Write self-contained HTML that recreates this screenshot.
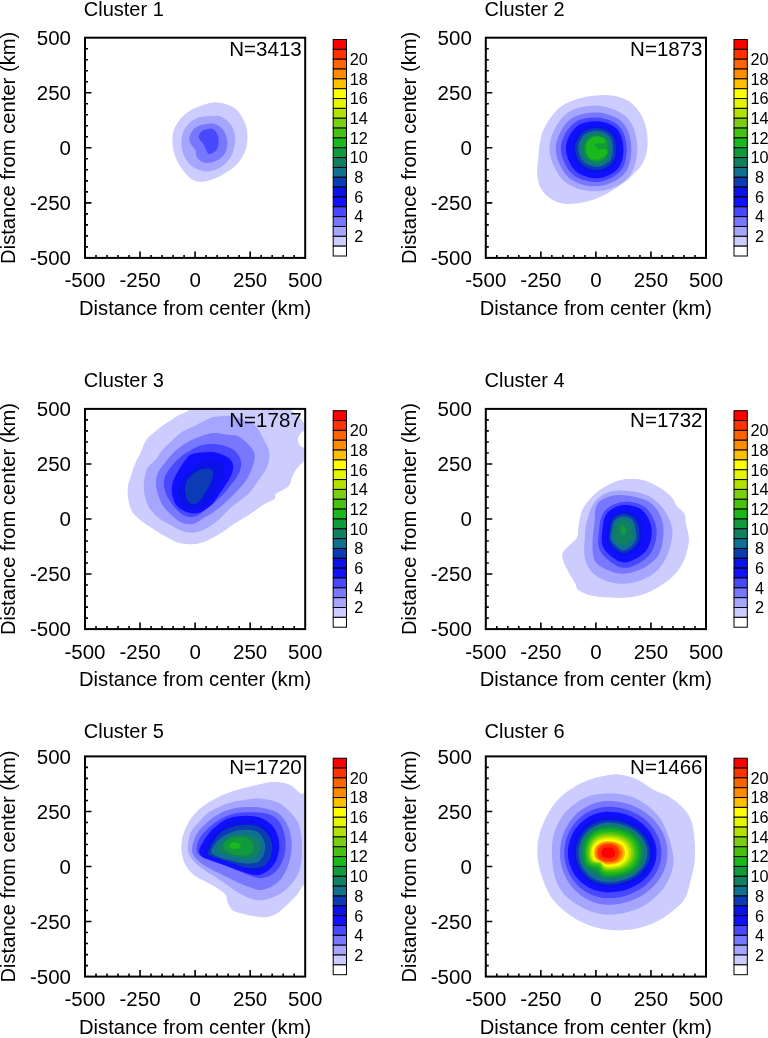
<!DOCTYPE html>
<html><head><meta charset="utf-8"><title>Clusters</title>
<style>
html,body{margin:0;padding:0;background:#fff;}
svg{display:block;}
.t{font-family:'Liberation Sans', Arial, Helvetica, sans-serif;font-size:20.5px;fill:#000;}
.s{font-family:'Liberation Sans', Arial, Helvetica, sans-serif;font-size:16.3px;fill:#000;}
</style></head><body>
<svg width="768" height="1038" viewBox="0 0 768 1038">
<defs><clipPath id="clip0"><rect x="85.00" y="37.70" width="220.20" height="220.20"/></clipPath><clipPath id="clip1"><rect x="485.80" y="37.70" width="220.20" height="220.20"/></clipPath><clipPath id="clip2"><rect x="85.00" y="408.90" width="220.20" height="220.20"/></clipPath><clipPath id="clip3"><rect x="485.80" y="408.90" width="220.20" height="220.20"/></clipPath><clipPath id="clip4"><rect x="85.00" y="756.40" width="220.20" height="220.20"/></clipPath><clipPath id="clip5"><rect x="485.80" y="756.40" width="220.20" height="220.20"/></clipPath></defs>
<rect width="768" height="1038" fill="#fff"/>
<g clip-path="url(#clip0)">
<path d="M217.3,102.4C222.3,102.7 229.0,104.9 232.9,106.9C236.8,109.0 238.4,111.2 240.7,114.7C243.0,118.2 245.5,123.2 246.6,127.8C247.7,132.4 247.5,138.0 247.2,142.1C246.9,146.2 246.1,149.0 244.6,152.5C243.1,156.0 240.7,159.9 238.1,162.9C235.5,165.9 232.9,168.1 229.0,170.7C225.1,173.3 219.2,176.7 214.7,178.5C210.1,180.3 205.4,181.6 201.7,181.8C198.0,182.0 195.6,181.7 192.6,179.8C189.6,178.0 186.2,174.4 183.4,170.7C180.6,167.0 177.4,162.5 175.6,157.7C173.8,152.9 172.6,146.9 172.4,142.1C172.2,137.3 172.9,133.0 174.3,129.1C175.7,125.2 178.2,121.6 180.8,118.6C183.4,115.5 186.3,113.1 190.0,110.8C193.7,108.5 198.4,106.4 203.0,105.0C207.6,103.6 212.3,102.1 217.3,102.4Z" fill="#ccccff"/>
<path d="M212.1,116.0C215.8,115.9 218.2,115.4 221.2,116.7C224.2,118.0 228.0,121.0 230.3,123.9C232.6,126.8 234.2,130.4 234.9,134.3C235.6,138.2 235.0,143.4 234.2,147.3C233.4,151.2 232.5,154.4 230.3,157.7C228.1,160.9 224.7,164.5 221.2,166.8C217.7,169.1 213.4,171.0 209.5,171.4C205.6,171.8 201.3,170.8 197.8,169.4C194.3,168.0 191.1,165.7 188.6,162.9C186.1,160.1 184.0,156.0 182.8,152.5C181.6,149.0 181.4,145.6 181.5,142.1C181.6,138.6 182.0,134.9 183.4,131.7C184.8,128.4 187.4,125.0 190.0,122.6C192.6,120.2 195.4,118.4 199.1,117.3C202.8,116.2 208.4,116.1 212.1,116.0Z" fill="#a6a6ff"/>
<path d="M203.0,124.5C206.0,124.0 211.4,123.1 214.7,123.9C217.9,124.7 220.4,126.5 222.5,129.1C224.6,131.7 226.4,136.0 227.1,139.5C227.8,143.0 227.4,146.9 226.4,149.9C225.4,152.9 223.6,155.6 221.2,157.7C218.8,159.8 215.1,161.5 212.1,162.3C209.1,163.1 205.6,163.3 203.0,162.3C200.4,161.3 197.7,158.4 196.5,156.4C195.3,154.4 196.7,152.4 195.8,150.5C194.9,148.6 192.4,146.8 191.3,144.7C190.2,142.6 189.2,140.4 189.3,138.2C189.4,136.0 190.7,133.5 191.9,131.7C193.1,129.8 194.7,128.3 196.5,127.1C198.3,125.9 200.0,125.0 203.0,124.5Z" fill="#7878ff"/>
<path d="M203.0,130.4C204.9,129.3 208.6,128.2 210.8,128.4C213.0,128.6 214.7,129.8 216.0,131.7C217.3,133.5 218.4,136.7 218.6,139.5C218.8,142.3 218.2,146.4 217.3,148.6C216.4,150.8 214.9,151.6 213.4,152.5C211.9,153.4 209.5,154.5 208.2,153.8C206.9,153.2 206.5,150.3 205.6,148.6C204.7,146.9 204.0,144.9 203.0,143.4C202.0,141.9 200.3,140.9 199.7,139.5C199.0,138.1 198.5,136.4 199.1,134.9C199.7,133.4 201.1,131.5 203.0,130.4Z" fill="#4848ff"/>
</g>
<rect x="85.00" y="37.70" width="220.20" height="220.20" fill="none" stroke="#000" stroke-width="2"/>
<path d="M96.01,257.90v-3.0M85.00,246.89h3.0M107.02,257.90v-3.0M85.00,235.88h3.0M118.03,257.90v-3.0M85.00,224.87h3.0M129.04,257.90v-3.0M85.00,213.86h3.0M140.05,257.90v-6.5M85.00,202.85h6.5M151.06,257.90v-3.0M85.00,191.84h3.0M162.07,257.90v-3.0M85.00,180.83h3.0M173.08,257.90v-3.0M85.00,169.82h3.0M184.09,257.90v-3.0M85.00,158.81h3.0M195.10,257.90v-6.5M85.00,147.80h6.5M206.11,257.90v-3.0M85.00,136.79h3.0M217.12,257.90v-3.0M85.00,125.78h3.0M228.13,257.90v-3.0M85.00,114.77h3.0M239.14,257.90v-3.0M85.00,103.76h3.0M250.15,257.90v-6.5M85.00,92.75h6.5M261.16,257.90v-3.0M85.00,81.74h3.0M272.17,257.90v-3.0M85.00,70.73h3.0M283.18,257.90v-3.0M85.00,59.72h3.0M294.19,257.90v-3.0M85.00,48.71h3.0" stroke="#000" stroke-width="1.6" fill="none"/>
<text x="85.00" y="287.30" text-anchor="middle" class="t">-500</text>
<text x="71.00" y="265.10" text-anchor="end" class="t">-500</text>
<text x="140.05" y="287.30" text-anchor="middle" class="t">-250</text>
<text x="71.00" y="210.05" text-anchor="end" class="t">-250</text>
<text x="195.10" y="287.30" text-anchor="middle" class="t">0</text>
<text x="71.00" y="155.00" text-anchor="end" class="t">0</text>
<text x="250.15" y="287.30" text-anchor="middle" class="t">250</text>
<text x="71.00" y="99.95" text-anchor="end" class="t">250</text>
<text x="305.20" y="287.30" text-anchor="middle" class="t">500</text>
<text x="71.00" y="44.90" text-anchor="end" class="t">500</text>
<text x="195.10" y="314.90" text-anchor="middle" class="t" style="font-size:20.2px">Distance from center (km)</text>
<text transform="translate(14.70,147.80) rotate(-90)" text-anchor="middle" class="t" style="font-size:20.2px">Distance from center (km)</text>
<text x="83.80" y="15.60" class="t" style="font-size:20px">Cluster 1</text>
<text x="301.70" y="55.70" text-anchor="end" class="t">N=3413</text>
<rect x="333.20" y="39.50" width="13.30" height="9.84" fill="#ff0000" stroke="#000" stroke-width="1"/>
<rect x="333.20" y="49.34" width="13.30" height="9.84" fill="#ff3200" stroke="#000" stroke-width="1"/>
<rect x="333.20" y="59.18" width="13.30" height="9.84" fill="#ff6400" stroke="#000" stroke-width="1"/>
<rect x="333.20" y="69.02" width="13.30" height="9.84" fill="#ff8c00" stroke="#000" stroke-width="1"/>
<rect x="333.20" y="78.86" width="13.30" height="9.84" fill="#ffc000" stroke="#000" stroke-width="1"/>
<rect x="333.20" y="88.70" width="13.30" height="9.84" fill="#ffff00" stroke="#000" stroke-width="1"/>
<rect x="333.20" y="98.55" width="13.30" height="9.84" fill="#e6f500" stroke="#000" stroke-width="1"/>
<rect x="333.20" y="108.39" width="13.30" height="9.84" fill="#b4e200" stroke="#000" stroke-width="1"/>
<rect x="333.20" y="118.23" width="13.30" height="9.84" fill="#7ad010" stroke="#000" stroke-width="1"/>
<rect x="333.20" y="128.07" width="13.30" height="9.84" fill="#48c010" stroke="#000" stroke-width="1"/>
<rect x="333.20" y="137.91" width="13.30" height="9.84" fill="#1ab81a" stroke="#000" stroke-width="1"/>
<rect x="333.20" y="147.75" width="13.30" height="9.84" fill="#109a3c" stroke="#000" stroke-width="1"/>
<rect x="333.20" y="157.59" width="13.30" height="9.84" fill="#108060" stroke="#000" stroke-width="1"/>
<rect x="333.20" y="167.43" width="13.30" height="9.84" fill="#107090" stroke="#000" stroke-width="1"/>
<rect x="333.20" y="177.27" width="13.30" height="9.84" fill="#0c3cb4" stroke="#000" stroke-width="1"/>
<rect x="333.20" y="187.11" width="13.30" height="9.84" fill="#0a12e8" stroke="#000" stroke-width="1"/>
<rect x="333.20" y="196.95" width="13.30" height="9.84" fill="#1010ff" stroke="#000" stroke-width="1"/>
<rect x="333.20" y="206.80" width="13.30" height="9.84" fill="#4848ff" stroke="#000" stroke-width="1"/>
<rect x="333.20" y="216.64" width="13.30" height="9.84" fill="#7878ff" stroke="#000" stroke-width="1"/>
<rect x="333.20" y="226.48" width="13.30" height="9.84" fill="#a6a6ff" stroke="#000" stroke-width="1"/>
<rect x="333.20" y="236.32" width="13.30" height="9.84" fill="#ccccff" stroke="#000" stroke-width="1"/>
<rect x="333.20" y="246.16" width="13.30" height="9.84" fill="#ffffff" stroke="#000" stroke-width="1"/>
<text x="358.80" y="242.17" class="s" text-anchor="middle">2</text>
<text x="358.80" y="222.49" class="s" text-anchor="middle">4</text>
<text x="358.80" y="202.80" class="s" text-anchor="middle">6</text>
<text x="358.80" y="183.12" class="s" text-anchor="middle">8</text>
<text x="358.80" y="163.44" class="s" text-anchor="middle">10</text>
<text x="358.80" y="143.76" class="s" text-anchor="middle">12</text>
<text x="358.80" y="124.08" class="s" text-anchor="middle">14</text>
<text x="358.80" y="104.40" class="s" text-anchor="middle">16</text>
<text x="358.80" y="84.71" class="s" text-anchor="middle">18</text>
<text x="358.80" y="65.03" class="s" text-anchor="middle">20</text>
<g clip-path="url(#clip1)">
<path d="M612.0,95.5C617.5,96.4 623.8,98.2 628.4,100.9C633.0,103.6 636.5,107.6 639.4,111.9C642.3,116.2 644.3,121.0 645.7,126.5C647.1,132.0 647.9,138.9 647.6,144.7C647.3,150.5 645.9,156.5 643.9,161.1C641.9,165.7 639.5,168.1 635.7,172.0C631.9,175.9 626.6,180.9 621.1,184.8C615.6,188.8 609.0,192.8 602.9,195.7C596.8,198.6 590.8,200.7 584.7,202.1C578.6,203.5 572.0,204.3 566.5,203.9C561.0,203.5 556.2,202.0 551.9,199.4C547.6,196.8 543.3,192.7 540.9,188.4C538.5,184.2 537.8,178.8 537.3,173.9C536.8,169.1 537.6,165.4 538.2,159.3C538.8,153.2 539.2,143.8 540.9,137.4C542.6,131.0 544.9,126.2 548.2,121.0C551.6,115.8 556.1,110.1 561.0,106.4C565.9,102.8 571.6,100.9 577.4,99.1C583.2,97.3 589.8,96.1 595.6,95.5C601.4,94.9 606.5,94.6 612.0,95.5Z" fill="#ccccff"/>
<path d="M637.3,148.0C637.2,138.0 634.3,125.3 627.7,118.3C621.2,111.2 608.5,106.3 598.0,105.7C587.5,105.1 573.0,107.8 564.9,114.9C556.8,121.9 549.5,136.9 549.4,148.0C549.3,159.1 556.4,174.2 564.5,181.5C572.6,188.7 587.4,191.9 598.0,191.3C608.6,190.7 621.5,185.3 628.1,178.1C634.6,170.9 637.4,158.0 637.3,148.0Z" fill="#a6a6ff"/>
<path d="M631.4,148.0C631.2,139.5 628.7,128.8 623.1,122.9C617.5,117.0 606.9,113.0 598.0,112.5C589.1,112.0 576.7,113.8 569.7,119.7C562.6,125.6 555.9,138.4 555.7,148.0C555.5,157.6 561.6,171.0 568.6,177.4C575.7,183.7 588.8,186.8 598.0,186.3C607.2,185.8 618.5,180.5 624.1,174.1C629.7,167.7 631.6,156.5 631.4,148.0Z" fill="#7878ff"/>
<path d="M626.7,148.0C626.5,140.6 624.3,131.5 619.5,126.5C614.7,121.4 605.7,118.1 598.0,117.6C590.3,117.1 579.6,118.3 573.4,123.4C567.2,128.4 561.0,139.6 560.8,148.0C560.6,156.4 565.9,168.2 572.1,173.9C578.3,179.5 589.9,182.4 598.0,181.9C606.1,181.4 616.0,176.4 620.8,170.8C625.6,165.1 626.9,155.4 626.7,148.0Z" fill="#4848ff"/>
<path d="M623.4,148.0C623.2,141.5 621.2,133.5 617.0,129.0C612.7,124.6 604.7,121.7 598.0,121.3C591.3,120.9 581.9,122.1 576.6,126.6C571.2,131.0 566.1,140.7 565.9,148.0C565.7,155.3 570.0,165.7 575.3,170.7C580.7,175.7 590.8,178.6 598.0,178.2C605.2,177.8 614.0,173.3 618.2,168.2C622.5,163.2 623.6,154.5 623.4,148.0Z" fill="#1010ff"/>
<path d="M618.7,148.0C618.5,142.6 617.1,136.1 613.7,132.3C610.2,128.6 603.5,126.0 598.0,125.7C592.5,125.4 584.8,126.8 580.5,130.5C576.2,134.2 572.4,142.0 572.2,148.0C572.0,154.0 575.1,162.4 579.4,166.6C583.7,170.8 592.1,173.5 598.0,173.2C603.9,172.9 611.3,168.9 614.7,164.7C618.2,160.5 618.9,153.4 618.7,148.0Z" fill="#0a12e8"/>
<path d="M615.7,148.0C615.6,143.3 614.6,137.6 611.7,134.3C608.7,131.0 602.9,128.5 598.0,128.2C593.1,127.9 586.3,129.2 582.5,132.5C578.7,135.8 575.3,142.7 575.2,148.0C575.1,153.3 577.9,160.6 581.7,164.3C585.5,168.0 592.9,170.3 598.0,170.0C603.1,169.7 609.5,166.1 612.5,162.5C615.4,158.8 615.8,152.7 615.7,148.0Z" fill="#0c3cb4"/>
<path d="M612.8,148.0C612.7,144.0 612.2,139.2 609.7,136.3C607.2,133.4 602.2,131.0 598.0,130.7C593.8,130.4 587.8,131.6 584.5,134.5C581.2,137.4 578.3,143.4 578.2,148.0C578.1,152.6 580.6,158.9 583.9,162.1C587.2,165.2 593.6,167.2 598.0,166.9C602.4,166.6 607.8,163.4 610.3,160.3C612.7,157.1 612.9,152.0 612.8,148.0Z" fill="#107090"/>
<path d="M610.2,148.0C610.1,144.6 609.9,140.6 607.8,138.2C605.8,135.7 601.6,133.5 598.0,133.2C594.4,132.9 589.3,134.0 586.5,136.5C583.6,138.9 581.2,144.1 581.1,148.0C581.0,151.9 583.1,157.4 585.9,160.1C588.7,162.9 594.2,164.7 598.0,164.4C601.8,164.1 606.4,161.1 608.4,158.4C610.4,155.7 610.3,151.4 610.2,148.0Z" fill="#108060"/>
<path d="M607.7,148.0C607.6,145.2 607.6,142.0 606.0,140.0C604.4,137.9 600.9,136.0 598.0,135.7C595.1,135.4 590.8,136.4 588.5,138.5C586.1,140.5 584.2,144.7 584.1,148.0C584.0,151.3 585.6,155.8 587.9,158.1C590.2,160.4 594.9,162.2 598.0,161.9C601.1,161.6 605.0,158.9 606.6,156.6C608.2,154.3 607.8,150.8 607.7,148.0Z" fill="#109a3c"/>
<path d="M604.2,143.3C605.1,142.8 605.9,141.3 605.7,140.4C605.5,139.5 604.3,138.4 602.8,137.8C601.3,137.2 598.8,136.5 596.8,136.6C594.8,136.7 592.4,137.2 590.8,138.2C589.2,139.2 587.8,140.9 587.0,142.6C586.2,144.3 585.9,146.6 585.9,148.6C585.9,150.6 586.2,152.8 587.0,154.6C587.8,156.3 589.2,158.2 590.8,159.1C592.4,160.0 594.9,159.9 596.8,159.8C598.6,159.7 600.3,159.2 601.9,158.3C603.5,157.4 605.5,155.8 606.4,154.6C607.3,153.4 607.6,151.9 607.2,150.9C606.8,149.9 605.5,148.9 604.2,148.6C603.0,148.3 600.9,149.4 599.7,149.3C598.5,149.2 597.5,148.5 596.8,147.8C596.0,147.1 595.2,145.7 595.2,144.9C595.2,144.2 595.9,143.6 596.8,143.3C597.7,143.0 599.3,143.3 600.5,143.3C601.7,143.3 603.3,143.8 604.2,143.3Z" fill="#1ab81a"/>
</g>
<rect x="485.80" y="37.70" width="220.20" height="220.20" fill="none" stroke="#000" stroke-width="2"/>
<path d="M496.81,257.90v-3.0M485.80,246.89h3.0M507.82,257.90v-3.0M485.80,235.88h3.0M518.83,257.90v-3.0M485.80,224.87h3.0M529.84,257.90v-3.0M485.80,213.86h3.0M540.85,257.90v-6.5M485.80,202.85h6.5M551.86,257.90v-3.0M485.80,191.84h3.0M562.87,257.90v-3.0M485.80,180.83h3.0M573.88,257.90v-3.0M485.80,169.82h3.0M584.89,257.90v-3.0M485.80,158.81h3.0M595.90,257.90v-6.5M485.80,147.80h6.5M606.91,257.90v-3.0M485.80,136.79h3.0M617.92,257.90v-3.0M485.80,125.78h3.0M628.93,257.90v-3.0M485.80,114.77h3.0M639.94,257.90v-3.0M485.80,103.76h3.0M650.95,257.90v-6.5M485.80,92.75h6.5M661.96,257.90v-3.0M485.80,81.74h3.0M672.97,257.90v-3.0M485.80,70.73h3.0M683.98,257.90v-3.0M485.80,59.72h3.0M694.99,257.90v-3.0M485.80,48.71h3.0" stroke="#000" stroke-width="1.6" fill="none"/>
<text x="485.80" y="287.30" text-anchor="middle" class="t">-500</text>
<text x="471.80" y="265.10" text-anchor="end" class="t">-500</text>
<text x="540.85" y="287.30" text-anchor="middle" class="t">-250</text>
<text x="471.80" y="210.05" text-anchor="end" class="t">-250</text>
<text x="595.90" y="287.30" text-anchor="middle" class="t">0</text>
<text x="471.80" y="155.00" text-anchor="end" class="t">0</text>
<text x="650.95" y="287.30" text-anchor="middle" class="t">250</text>
<text x="471.80" y="99.95" text-anchor="end" class="t">250</text>
<text x="706.00" y="287.30" text-anchor="middle" class="t">500</text>
<text x="471.80" y="44.90" text-anchor="end" class="t">500</text>
<text x="595.90" y="314.90" text-anchor="middle" class="t" style="font-size:20.2px">Distance from center (km)</text>
<text transform="translate(415.50,147.80) rotate(-90)" text-anchor="middle" class="t" style="font-size:20.2px">Distance from center (km)</text>
<text x="484.60" y="15.60" class="t" style="font-size:20px">Cluster 2</text>
<text x="702.50" y="55.70" text-anchor="end" class="t">N=1873</text>
<rect x="734.00" y="39.50" width="13.30" height="9.84" fill="#ff0000" stroke="#000" stroke-width="1"/>
<rect x="734.00" y="49.34" width="13.30" height="9.84" fill="#ff3200" stroke="#000" stroke-width="1"/>
<rect x="734.00" y="59.18" width="13.30" height="9.84" fill="#ff6400" stroke="#000" stroke-width="1"/>
<rect x="734.00" y="69.02" width="13.30" height="9.84" fill="#ff8c00" stroke="#000" stroke-width="1"/>
<rect x="734.00" y="78.86" width="13.30" height="9.84" fill="#ffc000" stroke="#000" stroke-width="1"/>
<rect x="734.00" y="88.70" width="13.30" height="9.84" fill="#ffff00" stroke="#000" stroke-width="1"/>
<rect x="734.00" y="98.55" width="13.30" height="9.84" fill="#e6f500" stroke="#000" stroke-width="1"/>
<rect x="734.00" y="108.39" width="13.30" height="9.84" fill="#b4e200" stroke="#000" stroke-width="1"/>
<rect x="734.00" y="118.23" width="13.30" height="9.84" fill="#7ad010" stroke="#000" stroke-width="1"/>
<rect x="734.00" y="128.07" width="13.30" height="9.84" fill="#48c010" stroke="#000" stroke-width="1"/>
<rect x="734.00" y="137.91" width="13.30" height="9.84" fill="#1ab81a" stroke="#000" stroke-width="1"/>
<rect x="734.00" y="147.75" width="13.30" height="9.84" fill="#109a3c" stroke="#000" stroke-width="1"/>
<rect x="734.00" y="157.59" width="13.30" height="9.84" fill="#108060" stroke="#000" stroke-width="1"/>
<rect x="734.00" y="167.43" width="13.30" height="9.84" fill="#107090" stroke="#000" stroke-width="1"/>
<rect x="734.00" y="177.27" width="13.30" height="9.84" fill="#0c3cb4" stroke="#000" stroke-width="1"/>
<rect x="734.00" y="187.11" width="13.30" height="9.84" fill="#0a12e8" stroke="#000" stroke-width="1"/>
<rect x="734.00" y="196.95" width="13.30" height="9.84" fill="#1010ff" stroke="#000" stroke-width="1"/>
<rect x="734.00" y="206.80" width="13.30" height="9.84" fill="#4848ff" stroke="#000" stroke-width="1"/>
<rect x="734.00" y="216.64" width="13.30" height="9.84" fill="#7878ff" stroke="#000" stroke-width="1"/>
<rect x="734.00" y="226.48" width="13.30" height="9.84" fill="#a6a6ff" stroke="#000" stroke-width="1"/>
<rect x="734.00" y="236.32" width="13.30" height="9.84" fill="#ccccff" stroke="#000" stroke-width="1"/>
<rect x="734.00" y="246.16" width="13.30" height="9.84" fill="#ffffff" stroke="#000" stroke-width="1"/>
<text x="759.60" y="242.17" class="s" text-anchor="middle">2</text>
<text x="759.60" y="222.49" class="s" text-anchor="middle">4</text>
<text x="759.60" y="202.80" class="s" text-anchor="middle">6</text>
<text x="759.60" y="183.12" class="s" text-anchor="middle">8</text>
<text x="759.60" y="163.44" class="s" text-anchor="middle">10</text>
<text x="759.60" y="143.76" class="s" text-anchor="middle">12</text>
<text x="759.60" y="124.08" class="s" text-anchor="middle">14</text>
<text x="759.60" y="104.40" class="s" text-anchor="middle">16</text>
<text x="759.60" y="84.71" class="s" text-anchor="middle">18</text>
<text x="759.60" y="65.03" class="s" text-anchor="middle">20</text>
<g clip-path="url(#clip2)">
<path d="M186.0,404.0C203.3,402.9 274.4,403.0 292.0,404.0C309.6,405.0 290.3,407.6 291.7,410.0C293.1,412.4 298.0,415.6 300.4,418.6C302.8,421.6 306.0,425.4 306.0,427.9C306.0,430.4 301.8,431.6 300.4,433.5C299.0,435.4 297.9,437.6 297.9,439.6C297.9,441.7 299.0,444.2 300.4,445.8C301.8,447.4 305.1,447.4 306.0,449.5C306.9,451.6 306.9,455.7 306.0,458.2C305.1,460.7 302.2,462.3 300.4,464.4C298.6,466.5 296.8,468.3 295.4,470.6C293.9,472.9 292.7,475.5 291.7,478.0C290.7,480.5 290.8,483.3 289.2,485.4C287.6,487.5 284.1,488.9 281.8,490.4C279.5,491.8 276.8,492.7 275.6,494.1C274.4,495.5 276.2,497.4 274.4,499.0C272.5,500.6 267.6,502.2 264.5,504.0C261.4,505.8 258.7,508.0 255.8,510.0C252.9,512.0 250.4,513.8 247.0,516.0C243.6,518.2 239.0,520.9 235.6,523.1C232.2,525.3 229.9,527.0 226.3,529.4C222.7,531.8 218.0,535.0 213.8,537.2C209.6,539.4 205.5,541.5 201.3,542.7C197.1,543.9 193.0,544.3 188.8,544.2C184.6,544.1 180.5,543.3 176.3,541.9C172.1,540.5 168.0,538.0 163.8,535.6C159.6,533.2 155.2,530.4 151.3,527.8C147.4,525.2 143.4,522.6 140.3,520.0C137.2,517.4 134.4,515.3 132.5,512.2C130.6,509.1 129.4,505.5 128.6,501.3C127.8,497.1 127.4,491.2 127.8,487.0C128.2,482.8 129.7,480.0 130.9,476.1C132.1,472.2 133.4,467.7 135.0,463.8C136.6,459.9 138.7,456.8 140.5,452.9C142.3,449.0 143.7,443.9 146.0,440.5C148.3,437.1 151.0,435.0 154.2,432.3C157.4,429.6 161.2,426.8 165.1,424.1C169.0,421.4 173.5,418.2 177.4,415.9C181.3,413.6 187.0,412.5 188.4,410.5C189.8,408.5 168.7,405.1 186.0,404.0Z" fill="#ccccff"/>
<path d="M215.0,416.8C219.4,416.2 226.1,415.0 232.3,416.1C238.5,417.2 247.8,421.3 252.1,423.6C256.4,425.9 256.2,426.8 258.3,429.7C260.4,432.6 262.9,437.8 264.5,440.9C266.1,444.0 267.4,445.6 268.2,448.3C269.0,451.0 269.6,453.9 269.4,457.0C269.2,460.1 268.2,463.8 267.0,466.9C265.8,470.0 263.9,472.6 262.0,475.5C260.1,478.4 258.1,481.1 255.8,484.2C253.5,487.3 251.0,491.4 248.4,494.1C245.8,496.8 243.2,498.0 240.0,500.5C236.8,503.0 232.7,506.1 229.4,509.1C226.1,512.1 223.7,515.3 220.0,518.4C216.3,521.5 211.7,525.4 207.5,527.8C203.3,530.1 199.2,532.0 195.0,532.5C190.8,533.0 186.7,532.2 182.5,530.9C178.3,529.6 174.2,527.0 170.0,524.7C165.8,522.4 161.2,520.0 157.5,516.9C153.8,513.8 150.4,510.6 148.1,505.9C145.8,501.2 144.1,494.8 143.8,488.8C143.5,482.8 144.6,474.9 146.5,470.0C148.4,465.1 152.8,463.0 155.5,459.7C158.2,456.4 159.9,453.1 162.4,450.1C164.9,447.1 167.4,444.9 170.6,441.9C173.8,438.9 177.4,435.0 181.5,432.3C185.6,429.6 191.1,427.6 195.2,425.5C199.3,423.4 202.7,421.4 206.0,420.0C209.3,418.6 210.6,417.4 215.0,416.8Z" fill="#a6a6ff"/>
<path d="M208.9,433.7C212.1,432.9 212.6,432.8 215.7,433.0C218.8,433.2 223.8,434.2 227.4,434.7C231.0,435.2 234.2,434.7 237.3,435.9C240.4,437.1 243.2,439.6 245.9,442.1C248.6,444.6 251.9,448.1 253.3,450.8C254.8,453.5 254.8,455.3 254.6,458.2C254.4,461.1 253.4,464.6 252.1,468.1C250.8,471.6 249.2,475.5 247.0,479.0C244.8,482.5 242.0,485.7 239.0,489.0C236.0,492.3 232.3,495.8 229.0,499.0C225.7,502.2 222.2,505.4 219.0,508.0C215.8,510.6 212.7,512.8 210.0,514.5C207.3,516.2 205.6,516.8 202.8,518.4C200.0,520.0 196.8,523.1 193.4,523.9C190.0,524.7 186.1,524.5 182.5,523.1C178.9,521.7 175.0,518.4 171.6,515.3C168.2,512.2 164.7,508.8 162.2,504.4C159.7,500.0 157.4,493.7 156.5,488.8C155.6,483.9 155.6,479.4 157.0,475.0C158.4,470.6 162.2,466.3 165.1,462.4C168.0,458.5 171.3,454.7 174.7,451.5C178.1,448.3 181.9,445.6 185.6,443.3C189.2,441.0 192.7,439.4 196.6,437.8C200.5,436.2 205.7,434.5 208.9,433.7Z" fill="#7878ff"/>
<path d="M201.3,445.2C206.1,444.0 212.4,443.8 216.9,444.2C221.4,444.6 225.1,446.0 228.3,447.3C231.5,448.6 234.0,450.0 236.0,452.0C238.0,454.0 239.7,457.0 240.5,459.5C241.3,462.0 241.5,464.2 241.0,467.0C240.5,469.8 239.3,472.8 237.5,476.0C235.7,479.2 232.6,482.8 230.0,486.0C227.4,489.2 224.7,492.7 222.0,495.5C219.3,498.3 216.4,500.9 214.0,503.0C211.6,505.1 210.2,505.9 207.5,508.0C204.8,510.1 201.2,513.8 198.1,515.3C195.0,516.8 191.9,517.4 188.8,516.9C185.7,516.4 182.5,514.8 179.4,512.2C176.3,509.6 172.5,505.2 170.0,501.3C167.5,497.4 165.4,492.9 164.5,489.0C163.6,485.1 163.7,481.3 164.5,478.0C165.3,474.7 167.0,472.4 169.2,469.3C171.3,466.2 174.2,462.7 177.4,459.7C180.6,456.7 184.4,453.9 188.4,451.5C192.4,449.1 196.6,446.4 201.3,445.2Z" fill="#4848ff"/>
<path d="M190.8,454.6C193.4,453.4 197.1,452.9 201.3,452.5C205.5,452.1 211.3,451.6 215.8,452.5C220.3,453.4 225.4,455.6 228.3,457.7C231.2,459.8 232.5,462.2 233.0,465.0C233.5,467.8 232.6,471.3 231.5,474.4C230.4,477.5 228.2,480.7 226.3,483.8C224.4,486.9 222.1,490.0 220.0,493.1C217.9,496.2 215.9,500.0 213.8,502.5C211.7,505.0 210.1,506.2 207.5,508.0C204.9,509.8 201.6,512.3 198.1,513.0C194.6,513.7 190.0,513.2 186.5,512.0C183.0,510.8 179.3,508.7 177.0,506.0C174.7,503.3 173.3,499.3 172.5,496.0C171.7,492.7 171.7,488.9 172.0,486.0C172.3,483.1 172.8,481.6 174.2,478.5C175.6,475.4 178.5,470.2 180.4,467.1C182.3,464.0 183.9,461.9 185.6,459.8C187.3,457.7 188.2,455.8 190.8,454.6Z" fill="#1010ff"/>
<path d="M201.3,460.8C204.9,459.4 210.2,459.3 213.8,459.8C217.4,460.3 221.4,462.1 223.1,464.0C224.8,465.9 224.5,468.4 224.2,471.3C223.8,474.2 222.6,478.1 221.0,481.7C219.4,485.3 216.9,489.6 214.8,493.1C212.7,496.6 210.8,500.1 208.5,502.5C206.2,504.9 204.2,506.6 201.3,507.7C198.4,508.8 193.9,509.6 190.8,509.3C187.7,509.0 184.8,507.8 182.7,505.8C180.6,503.8 179.2,500.6 178.5,497.5C177.8,494.4 177.7,490.4 178.5,487.0C179.3,483.6 181.1,480.1 183.4,477.0C185.7,473.9 189.3,470.9 192.3,468.2C195.3,465.5 197.7,462.2 201.3,460.8Z" fill="#0a12e8"/>
<path d="M201.3,469.2C204.2,468.5 209.8,468.0 211.7,469.2C213.6,470.4 213.0,473.9 212.7,476.5C212.3,479.1 211.0,481.9 209.6,484.8C208.2,487.8 206.3,491.2 204.4,494.2C202.5,497.1 200.4,500.9 198.1,502.5C195.8,504.1 192.7,504.2 190.8,503.5C188.9,502.8 187.6,500.9 186.7,498.3C185.8,495.7 184.9,491.0 185.1,487.9C185.3,484.8 186.2,482.0 187.7,479.6C189.2,477.2 191.7,475.0 194.0,473.3C196.3,471.6 198.4,469.9 201.3,469.2Z" fill="#0c3cb4"/>
</g>
<rect x="85.00" y="408.90" width="220.20" height="220.20" fill="none" stroke="#000" stroke-width="2"/>
<path d="M96.01,629.10v-3.0M85.00,618.09h3.0M107.02,629.10v-3.0M85.00,607.08h3.0M118.03,629.10v-3.0M85.00,596.07h3.0M129.04,629.10v-3.0M85.00,585.06h3.0M140.05,629.10v-6.5M85.00,574.05h6.5M151.06,629.10v-3.0M85.00,563.04h3.0M162.07,629.10v-3.0M85.00,552.03h3.0M173.08,629.10v-3.0M85.00,541.02h3.0M184.09,629.10v-3.0M85.00,530.01h3.0M195.10,629.10v-6.5M85.00,519.00h6.5M206.11,629.10v-3.0M85.00,507.99h3.0M217.12,629.10v-3.0M85.00,496.98h3.0M228.13,629.10v-3.0M85.00,485.97h3.0M239.14,629.10v-3.0M85.00,474.96h3.0M250.15,629.10v-6.5M85.00,463.95h6.5M261.16,629.10v-3.0M85.00,452.94h3.0M272.17,629.10v-3.0M85.00,441.93h3.0M283.18,629.10v-3.0M85.00,430.92h3.0M294.19,629.10v-3.0M85.00,419.91h3.0" stroke="#000" stroke-width="1.6" fill="none"/>
<text x="85.00" y="658.50" text-anchor="middle" class="t">-500</text>
<text x="71.00" y="636.30" text-anchor="end" class="t">-500</text>
<text x="140.05" y="658.50" text-anchor="middle" class="t">-250</text>
<text x="71.00" y="581.25" text-anchor="end" class="t">-250</text>
<text x="195.10" y="658.50" text-anchor="middle" class="t">0</text>
<text x="71.00" y="526.20" text-anchor="end" class="t">0</text>
<text x="250.15" y="658.50" text-anchor="middle" class="t">250</text>
<text x="71.00" y="471.15" text-anchor="end" class="t">250</text>
<text x="305.20" y="658.50" text-anchor="middle" class="t">500</text>
<text x="71.00" y="416.10" text-anchor="end" class="t">500</text>
<text x="195.10" y="686.10" text-anchor="middle" class="t" style="font-size:20.2px">Distance from center (km)</text>
<text transform="translate(14.70,519.00) rotate(-90)" text-anchor="middle" class="t" style="font-size:20.2px">Distance from center (km)</text>
<text x="83.80" y="386.70" class="t" style="font-size:20px">Cluster 3</text>
<text x="301.70" y="426.90" text-anchor="end" class="t">N=1787</text>
<rect x="333.20" y="410.70" width="13.30" height="9.84" fill="#ff0000" stroke="#000" stroke-width="1"/>
<rect x="333.20" y="420.54" width="13.30" height="9.84" fill="#ff3200" stroke="#000" stroke-width="1"/>
<rect x="333.20" y="430.38" width="13.30" height="9.84" fill="#ff6400" stroke="#000" stroke-width="1"/>
<rect x="333.20" y="440.22" width="13.30" height="9.84" fill="#ff8c00" stroke="#000" stroke-width="1"/>
<rect x="333.20" y="450.06" width="13.30" height="9.84" fill="#ffc000" stroke="#000" stroke-width="1"/>
<rect x="333.20" y="459.90" width="13.30" height="9.84" fill="#ffff00" stroke="#000" stroke-width="1"/>
<rect x="333.20" y="469.75" width="13.30" height="9.84" fill="#e6f500" stroke="#000" stroke-width="1"/>
<rect x="333.20" y="479.59" width="13.30" height="9.84" fill="#b4e200" stroke="#000" stroke-width="1"/>
<rect x="333.20" y="489.43" width="13.30" height="9.84" fill="#7ad010" stroke="#000" stroke-width="1"/>
<rect x="333.20" y="499.27" width="13.30" height="9.84" fill="#48c010" stroke="#000" stroke-width="1"/>
<rect x="333.20" y="509.11" width="13.30" height="9.84" fill="#1ab81a" stroke="#000" stroke-width="1"/>
<rect x="333.20" y="518.95" width="13.30" height="9.84" fill="#109a3c" stroke="#000" stroke-width="1"/>
<rect x="333.20" y="528.79" width="13.30" height="9.84" fill="#108060" stroke="#000" stroke-width="1"/>
<rect x="333.20" y="538.63" width="13.30" height="9.84" fill="#107090" stroke="#000" stroke-width="1"/>
<rect x="333.20" y="548.47" width="13.30" height="9.84" fill="#0c3cb4" stroke="#000" stroke-width="1"/>
<rect x="333.20" y="558.31" width="13.30" height="9.84" fill="#0a12e8" stroke="#000" stroke-width="1"/>
<rect x="333.20" y="568.15" width="13.30" height="9.84" fill="#1010ff" stroke="#000" stroke-width="1"/>
<rect x="333.20" y="578.00" width="13.30" height="9.84" fill="#4848ff" stroke="#000" stroke-width="1"/>
<rect x="333.20" y="587.84" width="13.30" height="9.84" fill="#7878ff" stroke="#000" stroke-width="1"/>
<rect x="333.20" y="597.68" width="13.30" height="9.84" fill="#a6a6ff" stroke="#000" stroke-width="1"/>
<rect x="333.20" y="607.52" width="13.30" height="9.84" fill="#ccccff" stroke="#000" stroke-width="1"/>
<rect x="333.20" y="617.36" width="13.30" height="9.84" fill="#ffffff" stroke="#000" stroke-width="1"/>
<text x="358.80" y="613.37" class="s" text-anchor="middle">2</text>
<text x="358.80" y="593.69" class="s" text-anchor="middle">4</text>
<text x="358.80" y="574.00" class="s" text-anchor="middle">6</text>
<text x="358.80" y="554.32" class="s" text-anchor="middle">8</text>
<text x="358.80" y="534.64" class="s" text-anchor="middle">10</text>
<text x="358.80" y="514.96" class="s" text-anchor="middle">12</text>
<text x="358.80" y="495.28" class="s" text-anchor="middle">14</text>
<text x="358.80" y="475.60" class="s" text-anchor="middle">16</text>
<text x="358.80" y="455.91" class="s" text-anchor="middle">18</text>
<text x="358.80" y="436.23" class="s" text-anchor="middle">20</text>
<g clip-path="url(#clip3)">
<path d="M631.6,479.1C636.5,479.1 641.2,479.4 646.1,480.9C651.0,482.4 656.4,485.5 660.7,488.2C665.0,490.9 669.0,494.2 671.7,497.3C674.4,500.4 675.0,503.8 677.1,506.5C679.2,509.2 682.9,510.7 684.4,513.7C685.9,516.7 685.4,520.4 686.2,524.7C687.0,529.0 689.0,534.4 689.0,539.3C689.0,544.2 687.6,549.3 686.2,553.9C684.8,558.5 683.2,562.7 680.8,566.6C678.4,570.5 675.4,574.1 671.7,577.5C668.1,580.9 663.5,584.0 658.9,586.7C654.3,589.5 649.5,592.2 644.3,594.0C639.1,595.8 633.7,597.0 627.9,597.6C622.1,598.2 615.8,597.9 609.7,597.6C603.6,597.3 596.7,597.0 591.5,595.8C586.3,594.6 581.5,592.4 578.7,590.3C576.0,588.2 576.5,585.7 575.0,583.0C573.5,580.3 571.4,577.2 569.6,573.9C567.8,570.6 565.3,566.3 564.1,563.0C562.9,559.7 561.7,556.6 562.3,553.9C562.9,551.2 565.4,549.4 567.8,546.6C570.2,543.9 575.1,541.0 576.9,537.4C578.7,533.8 577.8,529.2 578.7,524.7C579.6,520.2 580.2,514.7 582.3,510.1C584.4,505.5 588.1,501.0 591.5,497.3C594.9,493.6 598.1,490.9 602.4,488.2C606.6,485.5 612.1,482.4 617.0,480.9C621.9,479.4 626.8,479.1 631.6,479.1Z" fill="#ccccff"/>
<path d="M617.8,490.6C625.4,490.4 638.8,491.9 646.4,495.0C654.0,498.1 659.3,503.6 663.6,509.3C667.9,515.0 671.2,522.6 672.2,529.3C673.2,536.0 671.2,543.2 669.3,549.4C667.4,555.6 664.5,561.7 660.7,566.5C656.9,571.3 652.1,575.1 646.4,578.0C640.7,580.9 633.1,583.2 626.4,583.7C619.7,584.2 612.0,582.8 606.3,580.9C600.6,579.0 595.6,576.1 592.0,572.3C588.4,568.5 586.0,563.7 584.8,558.0C583.6,552.3 584.5,543.6 584.8,537.9C585.0,532.2 585.1,528.9 586.3,523.6C587.5,518.4 589.6,510.9 592.0,506.4C594.4,501.9 596.3,499.0 600.6,496.4C604.9,493.8 610.2,490.8 617.8,490.6Z" fill="#a6a6ff"/>
<path d="M620.6,495.0C627.9,495.3 640.5,497.5 647.0,500.7C653.5,503.9 656.8,508.9 659.5,514.0C662.2,519.0 663.6,524.3 663.5,531.0C663.4,537.7 662.3,547.8 659.0,554.0C655.7,560.2 649.4,564.7 643.5,568.0C637.6,571.3 629.7,573.5 623.5,573.7C617.3,573.9 611.1,571.5 606.3,569.4C601.5,567.2 597.2,565.1 594.9,560.8C592.6,556.5 592.6,549.8 592.5,543.6C592.4,537.4 593.8,529.7 594.4,523.6C595.0,517.5 594.5,511.1 596.0,507.0C597.5,502.9 599.3,501.0 603.4,499.0C607.5,497.0 613.3,494.7 620.6,495.0Z" fill="#7878ff"/>
<path d="M656.5,529.0C655.8,521.1 650.7,511.8 645.2,507.3C639.7,502.8 630.2,501.4 623.5,501.9C616.8,502.4 609.0,505.9 605.0,510.5C600.9,515.0 599.9,522.1 599.2,529.0C598.5,535.9 596.7,545.3 600.7,551.8C604.8,558.2 615.4,567.3 623.5,567.8C631.6,568.3 643.9,561.4 649.4,554.9C654.9,548.4 657.2,536.9 656.5,529.0Z" fill="#4848ff"/>
<path d="M651.6,529.0C651.0,522.2 646.9,514.2 642.3,510.2C637.6,506.3 629.3,504.7 623.5,505.1C617.7,505.5 610.8,508.8 607.3,512.8C603.8,516.8 603.1,523.0 602.5,529.0C601.9,535.0 600.4,543.1 603.9,548.6C607.4,554.2 616.5,562.0 623.5,562.4C630.5,562.8 641.0,556.7 645.7,551.2C650.4,545.6 652.2,535.8 651.6,529.0Z" fill="#1010ff"/>
<path d="M644.0,529.0C643.5,523.8 640.9,518.1 637.5,515.0C634.1,512.0 627.9,510.4 623.5,510.7C619.1,511.0 613.9,513.8 611.3,516.8C608.7,519.9 608.5,524.4 608.0,529.0C607.5,533.6 605.6,539.8 608.2,544.3C610.8,548.8 618.1,555.7 623.5,556.0C628.9,556.3 637.2,550.6 640.6,546.1C644.0,541.6 644.5,534.2 644.0,529.0Z" fill="#0a12e8"/>
<path d="M639.1,529.0C638.6,524.8 637.2,520.4 634.6,517.9C632.0,515.4 627.1,513.7 623.5,513.8C619.9,513.9 615.4,516.2 613.2,518.7C611.0,521.2 610.6,525.0 610.1,529.0C609.6,533.0 607.8,538.5 610.0,542.5C612.3,546.4 618.9,552.8 623.5,552.9C628.1,553.0 635.1,547.2 637.7,543.2C640.3,539.3 639.6,533.2 639.1,529.0Z" fill="#0c3cb4"/>
<path d="M635.5,529.0C635.0,525.5 634.4,522.2 632.4,520.1C630.4,518.0 626.4,516.3 623.5,516.3C620.6,516.3 616.7,518.2 614.8,520.3C612.9,522.4 612.5,525.6 612.0,529.0C611.5,532.4 609.8,537.3 611.7,540.8C613.6,544.3 619.5,550.2 623.5,550.2C627.5,550.2 633.5,544.5 635.5,541.0C637.5,537.4 636.0,532.5 635.5,529.0Z" fill="#107090"/>
<path d="M631.9,529.0C631.5,526.4 631.4,524.1 630.0,522.5C628.6,521.0 625.7,519.5 623.5,519.5C621.3,519.5 618.4,520.8 616.9,522.4C615.4,524.0 615.1,526.4 614.7,529.0C614.3,531.6 612.9,535.4 614.4,538.1C615.8,540.9 620.5,545.5 623.5,545.5C626.5,545.5 631.1,540.7 632.5,538.0C633.9,535.2 632.3,531.6 631.9,529.0Z" fill="#108060"/>
<path d="M621.5,525.3C622.2,524.8 623.7,525.3 624.5,526.0C625.3,526.7 626.0,528.3 626.3,529.5C626.5,530.7 626.4,532.0 626.0,533.0C625.6,534.0 624.6,535.2 623.8,535.3C623.0,535.4 621.9,534.5 621.3,533.5C620.7,532.5 620.3,530.4 620.3,529.0C620.3,527.6 620.8,525.8 621.5,525.3Z" fill="#109a3c"/>
</g>
<rect x="485.80" y="408.90" width="220.20" height="220.20" fill="none" stroke="#000" stroke-width="2"/>
<path d="M496.81,629.10v-3.0M485.80,618.09h3.0M507.82,629.10v-3.0M485.80,607.08h3.0M518.83,629.10v-3.0M485.80,596.07h3.0M529.84,629.10v-3.0M485.80,585.06h3.0M540.85,629.10v-6.5M485.80,574.05h6.5M551.86,629.10v-3.0M485.80,563.04h3.0M562.87,629.10v-3.0M485.80,552.03h3.0M573.88,629.10v-3.0M485.80,541.02h3.0M584.89,629.10v-3.0M485.80,530.01h3.0M595.90,629.10v-6.5M485.80,519.00h6.5M606.91,629.10v-3.0M485.80,507.99h3.0M617.92,629.10v-3.0M485.80,496.98h3.0M628.93,629.10v-3.0M485.80,485.97h3.0M639.94,629.10v-3.0M485.80,474.96h3.0M650.95,629.10v-6.5M485.80,463.95h6.5M661.96,629.10v-3.0M485.80,452.94h3.0M672.97,629.10v-3.0M485.80,441.93h3.0M683.98,629.10v-3.0M485.80,430.92h3.0M694.99,629.10v-3.0M485.80,419.91h3.0" stroke="#000" stroke-width="1.6" fill="none"/>
<text x="485.80" y="658.50" text-anchor="middle" class="t">-500</text>
<text x="471.80" y="636.30" text-anchor="end" class="t">-500</text>
<text x="540.85" y="658.50" text-anchor="middle" class="t">-250</text>
<text x="471.80" y="581.25" text-anchor="end" class="t">-250</text>
<text x="595.90" y="658.50" text-anchor="middle" class="t">0</text>
<text x="471.80" y="526.20" text-anchor="end" class="t">0</text>
<text x="650.95" y="658.50" text-anchor="middle" class="t">250</text>
<text x="471.80" y="471.15" text-anchor="end" class="t">250</text>
<text x="706.00" y="658.50" text-anchor="middle" class="t">500</text>
<text x="471.80" y="416.10" text-anchor="end" class="t">500</text>
<text x="595.90" y="686.10" text-anchor="middle" class="t" style="font-size:20.2px">Distance from center (km)</text>
<text transform="translate(415.50,519.00) rotate(-90)" text-anchor="middle" class="t" style="font-size:20.2px">Distance from center (km)</text>
<text x="484.60" y="386.70" class="t" style="font-size:20px">Cluster 4</text>
<text x="702.50" y="426.90" text-anchor="end" class="t">N=1732</text>
<rect x="734.00" y="410.70" width="13.30" height="9.84" fill="#ff0000" stroke="#000" stroke-width="1"/>
<rect x="734.00" y="420.54" width="13.30" height="9.84" fill="#ff3200" stroke="#000" stroke-width="1"/>
<rect x="734.00" y="430.38" width="13.30" height="9.84" fill="#ff6400" stroke="#000" stroke-width="1"/>
<rect x="734.00" y="440.22" width="13.30" height="9.84" fill="#ff8c00" stroke="#000" stroke-width="1"/>
<rect x="734.00" y="450.06" width="13.30" height="9.84" fill="#ffc000" stroke="#000" stroke-width="1"/>
<rect x="734.00" y="459.90" width="13.30" height="9.84" fill="#ffff00" stroke="#000" stroke-width="1"/>
<rect x="734.00" y="469.75" width="13.30" height="9.84" fill="#e6f500" stroke="#000" stroke-width="1"/>
<rect x="734.00" y="479.59" width="13.30" height="9.84" fill="#b4e200" stroke="#000" stroke-width="1"/>
<rect x="734.00" y="489.43" width="13.30" height="9.84" fill="#7ad010" stroke="#000" stroke-width="1"/>
<rect x="734.00" y="499.27" width="13.30" height="9.84" fill="#48c010" stroke="#000" stroke-width="1"/>
<rect x="734.00" y="509.11" width="13.30" height="9.84" fill="#1ab81a" stroke="#000" stroke-width="1"/>
<rect x="734.00" y="518.95" width="13.30" height="9.84" fill="#109a3c" stroke="#000" stroke-width="1"/>
<rect x="734.00" y="528.79" width="13.30" height="9.84" fill="#108060" stroke="#000" stroke-width="1"/>
<rect x="734.00" y="538.63" width="13.30" height="9.84" fill="#107090" stroke="#000" stroke-width="1"/>
<rect x="734.00" y="548.47" width="13.30" height="9.84" fill="#0c3cb4" stroke="#000" stroke-width="1"/>
<rect x="734.00" y="558.31" width="13.30" height="9.84" fill="#0a12e8" stroke="#000" stroke-width="1"/>
<rect x="734.00" y="568.15" width="13.30" height="9.84" fill="#1010ff" stroke="#000" stroke-width="1"/>
<rect x="734.00" y="578.00" width="13.30" height="9.84" fill="#4848ff" stroke="#000" stroke-width="1"/>
<rect x="734.00" y="587.84" width="13.30" height="9.84" fill="#7878ff" stroke="#000" stroke-width="1"/>
<rect x="734.00" y="597.68" width="13.30" height="9.84" fill="#a6a6ff" stroke="#000" stroke-width="1"/>
<rect x="734.00" y="607.52" width="13.30" height="9.84" fill="#ccccff" stroke="#000" stroke-width="1"/>
<rect x="734.00" y="617.36" width="13.30" height="9.84" fill="#ffffff" stroke="#000" stroke-width="1"/>
<text x="759.60" y="613.37" class="s" text-anchor="middle">2</text>
<text x="759.60" y="593.69" class="s" text-anchor="middle">4</text>
<text x="759.60" y="574.00" class="s" text-anchor="middle">6</text>
<text x="759.60" y="554.32" class="s" text-anchor="middle">8</text>
<text x="759.60" y="534.64" class="s" text-anchor="middle">10</text>
<text x="759.60" y="514.96" class="s" text-anchor="middle">12</text>
<text x="759.60" y="495.28" class="s" text-anchor="middle">14</text>
<text x="759.60" y="475.60" class="s" text-anchor="middle">16</text>
<text x="759.60" y="455.91" class="s" text-anchor="middle">18</text>
<text x="759.60" y="436.23" class="s" text-anchor="middle">20</text>
<g clip-path="url(#clip4)">
<path d="M263.0,783.4C268.1,782.4 272.1,781.4 276.6,781.7C281.1,782.0 286.2,783.1 290.1,785.1C294.1,787.1 297.0,791.0 300.3,793.5C303.6,796.0 308.4,784.8 310.0,800.0C311.6,815.2 311.1,870.8 310.0,885.0C308.9,899.2 305.8,883.3 303.6,885.0C301.4,886.7 299.7,891.7 296.9,895.1C294.1,898.5 290.1,902.2 286.7,905.3C283.3,908.4 280.0,911.7 276.6,913.7C273.2,915.7 270.1,916.7 266.4,917.1C262.7,917.5 258.6,916.9 254.6,916.3C250.7,915.7 246.4,914.7 242.7,913.7C239.0,912.7 235.0,912.3 232.5,910.3C230.0,908.3 228.6,904.4 227.5,901.9C226.4,899.4 227.5,897.4 225.8,895.1C224.1,892.8 220.7,890.5 217.3,888.3C213.9,886.0 209.4,883.9 205.5,881.6C201.6,879.4 197.0,877.6 193.6,874.8C190.2,872.0 187.2,868.3 185.2,864.6C183.2,860.9 182.4,856.8 181.8,852.8C181.2,848.8 181.2,844.8 181.8,840.9C182.4,837.0 183.5,833.0 185.2,829.1C186.9,825.2 189.1,820.9 191.9,817.2C194.7,813.5 198.2,810.2 202.1,807.1C206.0,804.0 210.8,801.2 215.6,798.6C220.4,796.0 225.8,793.6 230.9,791.8C236.0,790.0 240.8,789.0 246.1,787.6C251.4,786.2 257.9,784.4 263.0,783.4Z" fill="#ccccff"/>
<path d="M242.7,800.3C247.2,799.7 254.0,798.3 259.6,798.6C265.2,798.9 272.1,800.3 276.6,802.0C281.1,803.7 283.3,805.7 286.7,808.8C290.1,811.9 294.5,816.4 296.9,820.6C299.3,824.8 300.2,829.1 301.1,834.2C302.0,839.3 302.1,845.5 302.0,851.1C301.9,856.7 301.7,862.9 300.3,868.0C298.9,873.1 296.3,877.6 293.5,881.6C290.7,885.6 287.2,888.9 283.3,891.7C279.4,894.5 274.0,897.1 269.8,898.5C265.6,899.9 261.8,900.5 257.9,900.2C253.9,899.9 250.0,898.5 246.1,896.8C242.2,895.1 238.1,892.5 234.2,890.0C230.2,887.5 226.6,884.4 222.4,881.6C218.2,878.8 213.1,875.9 208.9,873.1C204.7,870.3 200.3,867.7 197.0,864.6C193.7,861.5 190.5,857.9 189.0,854.5C187.5,851.1 187.9,848.0 188.2,844.3C188.5,840.6 188.9,836.2 190.7,832.5C192.4,828.8 195.7,825.7 198.7,822.3C201.7,818.9 204.9,815.0 208.9,812.2C212.9,809.4 218.5,807.1 222.4,805.4C226.3,803.7 229.1,802.9 232.5,802.0C235.9,801.1 238.2,800.9 242.7,800.3Z" fill="#a6a6ff"/>
<path d="M246.1,807.1C251.2,807.0 257.9,807.0 263.0,807.9C268.1,808.8 272.9,810.1 276.6,812.2C280.3,814.3 282.8,817.2 285.0,820.6C287.2,824.0 289.0,828.0 290.1,832.5C291.2,837.0 292.1,842.4 291.8,847.7C291.5,853.1 290.1,859.5 288.4,864.6C286.7,869.7 284.4,874.5 281.6,878.2C278.8,881.9 275.2,884.6 271.5,886.6C267.8,888.6 263.6,890.0 259.6,890.0C255.7,890.0 251.8,888.0 247.8,886.6C243.9,885.2 240.1,883.6 235.9,881.6C231.7,879.6 226.9,877.1 222.4,874.8C217.9,872.5 212.9,870.3 208.9,868.0C204.9,865.7 201.4,863.7 198.7,861.2C195.9,858.7 193.3,855.9 192.4,852.8C191.5,849.7 192.4,846.0 193.3,842.6C194.2,839.2 195.4,835.9 197.7,832.5C200.0,829.1 203.6,825.4 207.2,822.3C210.8,819.2 214.8,816.1 219.0,813.9C223.2,811.6 228.0,809.9 232.5,808.8C237.0,807.7 241.0,807.2 246.1,807.1Z" fill="#7878ff"/>
<path d="M246.1,812.2C251.2,812.1 258.2,812.2 263.0,813.0C267.8,813.8 271.8,815.1 274.9,817.2C278.0,819.3 279.9,822.3 281.6,825.7C283.3,829.1 284.4,833.0 285.0,837.5C285.6,842.0 285.9,848.0 285.0,852.8C284.1,857.6 282.1,862.6 279.9,866.3C277.6,870.0 274.9,872.8 271.5,874.8C268.1,876.8 263.6,878.2 259.6,878.2C255.7,878.2 251.8,876.2 247.8,874.8C243.9,873.4 240.1,871.4 235.9,869.7C231.7,868.0 226.9,866.3 222.4,864.6C217.9,862.9 212.9,861.3 208.9,859.6C204.9,857.9 200.5,856.5 198.5,854.5C196.5,852.5 196.4,850.5 196.7,847.7C197.0,844.9 198.1,840.9 200.1,837.5C202.1,834.1 205.5,830.5 208.9,827.4C212.3,824.3 216.8,821.1 220.7,818.9C224.6,816.6 228.3,815.0 232.5,813.9C236.7,812.8 241.0,812.4 246.1,812.2Z" fill="#4848ff"/>
<path d="M199.2,850.5C199.5,847.8 201.7,844.1 204.0,840.5C206.3,836.9 209.0,832.7 212.8,829.1C216.6,825.5 221.4,821.1 226.9,818.9C232.4,816.7 239.9,815.9 245.6,815.8C251.3,815.7 256.6,816.1 261.3,818.1C266.0,820.1 270.8,823.3 273.8,827.5C276.8,831.7 278.7,837.9 279.2,843.1C279.7,848.3 278.6,854.4 276.9,858.8C275.2,863.2 272.5,867.0 269.1,869.7C265.7,872.4 261.3,874.9 256.6,875.2C251.9,875.5 246.4,873.0 240.9,871.3C235.4,869.6 229.3,867.0 223.8,865.0C218.3,863.0 211.7,860.9 208.1,859.5C204.5,858.1 203.5,858.0 202.0,856.5C200.5,855.0 198.9,853.2 199.2,850.5Z" fill="#1010ff"/>
<path d="M204.5,849.9C204.8,847.6 206.7,844.3 208.6,841.3C210.6,838.2 212.9,834.6 216.2,831.5C219.5,828.4 223.6,824.6 228.3,822.7C233.0,820.8 239.5,820.1 244.4,820.0C249.3,819.9 253.9,820.3 257.9,822.0C261.9,823.7 266.1,826.5 268.6,830.1C271.2,833.7 272.8,839.0 273.3,843.5C273.7,848.0 272.8,853.2 271.3,857.0C269.9,860.8 267.5,864.0 264.6,866.4C261.7,868.7 257.9,870.9 253.9,871.1C249.8,871.3 245.1,869.2 240.4,867.8C235.7,866.3 230.3,864.0 225.6,862.3C220.9,860.6 215.3,858.8 212.1,857.6C209.0,856.4 208.2,856.3 206.9,855.0C205.6,853.7 204.2,852.2 204.5,849.9Z" fill="#0a12e8"/>
<path d="M208.1,852.5C208.9,849.9 211.8,843.6 214.4,840.0C217.0,836.4 219.6,833.1 223.8,830.6C228.0,828.1 233.9,826.0 239.4,825.2C244.9,824.4 251.9,824.5 256.6,825.9C261.3,827.3 264.9,830.7 267.5,833.8C270.1,836.9 271.7,840.8 272.2,844.7C272.7,848.6 272.2,853.6 270.6,857.2C269.0,860.9 266.4,864.8 262.8,866.6C259.2,868.4 253.8,868.6 248.8,868.1C243.9,867.6 238.1,865.0 233.1,863.4C228.1,861.8 223.0,860.1 219.1,858.8C215.2,857.5 211.5,856.6 209.7,855.6C207.9,854.6 207.3,855.1 208.1,852.5Z" fill="#0c3cb4"/>
<path d="M211.5,850.5C212.1,847.9 215.2,843.0 218.5,840.0C221.8,837.0 227.1,833.9 231.6,832.2C236.1,830.5 241.2,829.8 245.6,829.8C250.0,829.8 255.0,830.2 258.1,832.2C261.2,834.2 263.3,838.2 264.4,841.6C265.4,845.0 265.4,849.1 264.4,852.5C263.3,855.9 261.2,860.1 258.1,861.9C255.0,863.7 250.3,863.7 245.6,863.4C240.9,863.1 235.1,861.6 230.0,860.3C224.9,859.0 218.1,857.1 215.0,855.5C211.9,853.9 210.9,853.1 211.5,850.5Z" fill="#107090"/>
<path d="M217.5,849.0C218.4,846.9 221.2,842.3 224.3,840.0C227.4,837.7 232.2,836.1 236.3,835.3C240.4,834.5 245.2,834.5 248.8,835.3C252.4,836.1 256.3,837.6 258.1,840.0C259.9,842.4 260.2,846.5 259.7,849.4C259.2,852.3 257.9,855.6 255.0,857.2C252.1,858.8 246.9,859.1 242.5,858.8C238.1,858.5 232.3,856.6 228.4,855.6C224.5,854.6 220.8,853.6 219.0,852.5C217.2,851.4 216.6,851.1 217.5,849.0Z" fill="#108060"/>
<path d="M223.8,843.1C224.8,841.5 226.9,839.4 230.0,838.4C233.1,837.4 239.1,836.6 242.5,836.9C245.9,837.2 248.5,838.2 250.3,840.0C252.1,841.8 253.4,845.4 253.4,847.8C253.4,850.1 252.4,852.8 250.3,854.1C248.2,855.4 244.6,855.9 240.9,855.6C237.2,855.3 231.2,853.8 228.4,852.5C225.6,851.2 224.6,849.4 223.8,847.8C223.0,846.2 222.8,844.7 223.8,843.1Z" fill="#109a3c"/>
<path d="M230.0,843.9C230.9,843.2 233.1,842.3 234.7,842.3C236.3,842.3 238.4,843.2 239.4,843.9C240.4,844.6 241.2,845.5 240.9,846.3C240.6,847.1 239.4,848.2 237.8,848.6C236.2,849.0 233.0,849.0 231.6,848.6C230.2,848.2 229.5,847.1 229.2,846.3C228.9,845.5 229.1,844.6 230.0,843.9Z" fill="#1ab81a"/>
</g>
<rect x="85.00" y="756.40" width="220.20" height="220.20" fill="none" stroke="#000" stroke-width="2"/>
<path d="M96.01,976.60v-3.0M85.00,965.59h3.0M107.02,976.60v-3.0M85.00,954.58h3.0M118.03,976.60v-3.0M85.00,943.57h3.0M129.04,976.60v-3.0M85.00,932.56h3.0M140.05,976.60v-6.5M85.00,921.55h6.5M151.06,976.60v-3.0M85.00,910.54h3.0M162.07,976.60v-3.0M85.00,899.53h3.0M173.08,976.60v-3.0M85.00,888.52h3.0M184.09,976.60v-3.0M85.00,877.51h3.0M195.10,976.60v-6.5M85.00,866.50h6.5M206.11,976.60v-3.0M85.00,855.49h3.0M217.12,976.60v-3.0M85.00,844.48h3.0M228.13,976.60v-3.0M85.00,833.47h3.0M239.14,976.60v-3.0M85.00,822.46h3.0M250.15,976.60v-6.5M85.00,811.45h6.5M261.16,976.60v-3.0M85.00,800.44h3.0M272.17,976.60v-3.0M85.00,789.43h3.0M283.18,976.60v-3.0M85.00,778.42h3.0M294.19,976.60v-3.0M85.00,767.41h3.0" stroke="#000" stroke-width="1.6" fill="none"/>
<text x="85.00" y="1006.00" text-anchor="middle" class="t">-500</text>
<text x="71.00" y="983.80" text-anchor="end" class="t">-500</text>
<text x="140.05" y="1006.00" text-anchor="middle" class="t">-250</text>
<text x="71.00" y="928.75" text-anchor="end" class="t">-250</text>
<text x="195.10" y="1006.00" text-anchor="middle" class="t">0</text>
<text x="71.00" y="873.70" text-anchor="end" class="t">0</text>
<text x="250.15" y="1006.00" text-anchor="middle" class="t">250</text>
<text x="71.00" y="818.65" text-anchor="end" class="t">250</text>
<text x="305.20" y="1006.00" text-anchor="middle" class="t">500</text>
<text x="71.00" y="763.60" text-anchor="end" class="t">500</text>
<text x="195.10" y="1033.60" text-anchor="middle" class="t" style="font-size:20.2px">Distance from center (km)</text>
<text transform="translate(14.70,866.50) rotate(-90)" text-anchor="middle" class="t" style="font-size:20.2px">Distance from center (km)</text>
<text x="83.80" y="737.90" class="t" style="font-size:20px">Cluster 5</text>
<text x="301.70" y="774.40" text-anchor="end" class="t">N=1720</text>
<rect x="333.20" y="758.20" width="13.30" height="9.84" fill="#ff0000" stroke="#000" stroke-width="1"/>
<rect x="333.20" y="768.04" width="13.30" height="9.84" fill="#ff3200" stroke="#000" stroke-width="1"/>
<rect x="333.20" y="777.88" width="13.30" height="9.84" fill="#ff6400" stroke="#000" stroke-width="1"/>
<rect x="333.20" y="787.72" width="13.30" height="9.84" fill="#ff8c00" stroke="#000" stroke-width="1"/>
<rect x="333.20" y="797.56" width="13.30" height="9.84" fill="#ffc000" stroke="#000" stroke-width="1"/>
<rect x="333.20" y="807.40" width="13.30" height="9.84" fill="#ffff00" stroke="#000" stroke-width="1"/>
<rect x="333.20" y="817.25" width="13.30" height="9.84" fill="#e6f500" stroke="#000" stroke-width="1"/>
<rect x="333.20" y="827.09" width="13.30" height="9.84" fill="#b4e200" stroke="#000" stroke-width="1"/>
<rect x="333.20" y="836.93" width="13.30" height="9.84" fill="#7ad010" stroke="#000" stroke-width="1"/>
<rect x="333.20" y="846.77" width="13.30" height="9.84" fill="#48c010" stroke="#000" stroke-width="1"/>
<rect x="333.20" y="856.61" width="13.30" height="9.84" fill="#1ab81a" stroke="#000" stroke-width="1"/>
<rect x="333.20" y="866.45" width="13.30" height="9.84" fill="#109a3c" stroke="#000" stroke-width="1"/>
<rect x="333.20" y="876.29" width="13.30" height="9.84" fill="#108060" stroke="#000" stroke-width="1"/>
<rect x="333.20" y="886.13" width="13.30" height="9.84" fill="#107090" stroke="#000" stroke-width="1"/>
<rect x="333.20" y="895.97" width="13.30" height="9.84" fill="#0c3cb4" stroke="#000" stroke-width="1"/>
<rect x="333.20" y="905.81" width="13.30" height="9.84" fill="#0a12e8" stroke="#000" stroke-width="1"/>
<rect x="333.20" y="915.65" width="13.30" height="9.84" fill="#1010ff" stroke="#000" stroke-width="1"/>
<rect x="333.20" y="925.50" width="13.30" height="9.84" fill="#4848ff" stroke="#000" stroke-width="1"/>
<rect x="333.20" y="935.34" width="13.30" height="9.84" fill="#7878ff" stroke="#000" stroke-width="1"/>
<rect x="333.20" y="945.18" width="13.30" height="9.84" fill="#a6a6ff" stroke="#000" stroke-width="1"/>
<rect x="333.20" y="955.02" width="13.30" height="9.84" fill="#ccccff" stroke="#000" stroke-width="1"/>
<rect x="333.20" y="964.86" width="13.30" height="9.84" fill="#ffffff" stroke="#000" stroke-width="1"/>
<text x="358.80" y="960.87" class="s" text-anchor="middle">2</text>
<text x="358.80" y="941.19" class="s" text-anchor="middle">4</text>
<text x="358.80" y="921.50" class="s" text-anchor="middle">6</text>
<text x="358.80" y="901.82" class="s" text-anchor="middle">8</text>
<text x="358.80" y="882.14" class="s" text-anchor="middle">10</text>
<text x="358.80" y="862.46" class="s" text-anchor="middle">12</text>
<text x="358.80" y="842.78" class="s" text-anchor="middle">14</text>
<text x="358.80" y="823.10" class="s" text-anchor="middle">16</text>
<text x="358.80" y="803.41" class="s" text-anchor="middle">18</text>
<text x="358.80" y="783.73" class="s" text-anchor="middle">20</text>
<g clip-path="url(#clip5)">
<path d="M580.9,783.3C587.5,780.0 594.5,778.1 600.8,776.6C607.1,775.1 612.6,774.0 618.5,774.4C624.4,774.8 630.3,776.3 636.2,778.9C642.1,781.5 648.8,787.1 654.0,789.9C659.2,792.7 662.8,792.9 667.2,795.5C671.6,798.1 676.8,801.9 680.5,805.4C684.2,808.9 687.2,812.1 689.4,816.5C691.6,820.9 692.9,825.0 693.8,832.0C694.7,839.0 695.4,850.4 694.9,858.5C694.4,866.6 692.2,874.1 690.5,880.7C688.8,887.4 688.0,893.2 684.9,898.4C681.8,903.6 676.9,907.7 671.7,911.7C666.6,915.8 660.6,919.8 654.0,922.7C647.4,925.7 639.9,928.3 631.8,929.4C623.7,930.5 613.4,930.5 605.3,929.4C597.2,928.3 589.8,925.7 583.1,922.7C576.5,919.8 570.6,915.8 565.4,911.7C560.2,907.7 555.8,903.6 552.1,898.4C548.4,893.2 545.7,887.4 543.3,880.7C540.9,874.1 538.4,865.9 537.7,858.5C537.0,851.1 537.2,843.8 538.9,836.4C540.6,829.0 544.0,820.9 547.7,814.3C551.4,807.7 555.5,801.8 561.0,796.6C566.5,791.4 574.3,786.6 580.9,783.3Z" fill="#ccccff"/>
<path d="M609.2,793.2C615.9,793.2 623.0,794.2 629.2,796.1C635.4,798.0 641.1,800.9 646.4,804.7C651.6,808.5 656.9,813.3 660.7,819.0C664.5,824.7 667.2,831.9 669.3,839.1C671.4,846.3 673.8,854.9 673.5,862.0C673.2,869.1 670.4,876.3 667.5,882.0C664.6,887.7 660.8,892.0 656.0,896.4C651.2,900.8 645.4,905.5 638.5,908.5C631.6,911.5 622.2,913.8 614.9,914.5C607.6,915.2 601.1,914.4 594.9,912.8C588.7,911.2 583.0,908.2 577.7,905.0C572.4,901.8 567.1,898.3 563.3,893.5C559.5,888.7 556.6,882.5 554.7,876.3C552.8,870.1 552.2,863.0 552.0,856.3C551.8,849.6 551.9,842.4 553.3,836.2C554.7,830.0 557.4,824.0 560.5,819.0C563.6,814.0 567.1,809.9 571.9,806.1C576.7,802.3 582.9,798.2 589.1,796.1C595.3,794.0 602.5,793.2 609.2,793.2Z" fill="#a6a6ff"/>
<path d="M667.5,853.0C667.5,849.6 667.1,846.2 666.4,842.9C665.6,839.6 664.5,836.3 663.0,833.1C661.5,830.0 659.7,827.0 657.6,824.2C655.4,821.4 652.9,818.7 650.2,816.3C647.5,813.9 644.5,811.7 641.3,809.8C638.1,808.0 634.6,806.3 631.1,805.1C627.5,803.8 623.8,802.8 620.0,802.1C616.2,801.4 612.0,801.1 608.5,801.1C605.0,801.1 602.1,801.4 599.0,802.1C595.9,802.8 592.8,803.8 589.9,805.1C587.0,806.3 584.1,808.0 581.5,809.8C578.9,811.7 576.4,813.9 574.1,816.3C571.9,818.7 569.8,821.4 568.1,824.2C566.3,827.0 564.8,830.0 563.6,833.1C562.4,836.3 561.5,839.6 560.8,842.9C560.2,846.2 559.9,849.6 559.9,853.0C559.9,856.4 560.2,859.8 560.8,863.1C561.5,866.4 562.4,869.7 563.6,872.8C564.8,875.9 566.3,878.9 568.1,881.7C569.8,884.5 571.9,887.2 574.1,889.6C576.4,891.9 578.9,894.1 581.5,896.0C584.1,897.9 587.0,899.5 589.9,900.8C592.8,902.1 595.9,903.1 599.0,903.7C602.1,904.4 605.0,904.7 608.5,904.7C612.0,904.7 616.2,904.4 620.0,903.7C623.8,903.1 627.5,902.1 631.1,900.8C634.6,899.5 638.1,897.9 641.3,896.0C644.5,894.1 647.5,891.9 650.2,889.6C652.9,887.2 655.4,884.5 657.6,881.7C659.7,878.9 661.5,875.9 663.0,872.8C664.5,869.7 665.6,866.4 666.4,863.1C667.1,859.8 667.5,856.4 667.5,853.0Z" fill="#7878ff"/>
<path d="M661.5,853.0C661.5,850.0 661.2,846.9 660.5,844.0C659.8,841.0 658.8,838.1 657.5,835.3C656.1,832.5 654.5,829.8 652.6,827.3C650.7,824.8 648.4,822.5 646.0,820.3C643.5,818.2 640.8,816.3 637.9,814.6C635.1,812.9 632.0,811.5 628.8,810.3C625.6,809.2 622.2,808.3 618.8,807.7C615.5,807.1 611.7,806.8 608.5,806.8C605.3,806.8 602.7,807.1 599.9,807.7C597.0,808.3 594.2,809.2 591.5,810.3C588.9,811.5 586.3,812.9 583.9,814.6C581.5,816.3 579.2,818.2 577.2,820.3C575.1,822.5 573.3,824.8 571.7,827.3C570.1,829.8 568.7,832.5 567.6,835.3C566.5,838.1 565.6,841.0 565.1,844.0C564.5,846.9 564.2,850.0 564.2,853.0C564.2,856.0 564.5,858.9 565.1,861.8C565.6,864.7 566.5,867.5 567.6,870.3C568.7,873.0 570.1,875.6 571.7,878.1C573.3,880.5 575.1,882.8 577.2,884.9C579.2,887.0 581.5,888.9 583.9,890.5C586.3,892.1 588.9,893.5 591.5,894.7C594.2,895.8 597.0,896.7 599.9,897.2C602.7,897.8 605.3,898.1 608.5,898.1C611.7,898.1 615.5,897.8 618.8,897.2C622.2,896.7 625.6,895.8 628.8,894.7C632.0,893.5 635.1,892.1 637.9,890.5C640.8,888.9 643.5,887.0 646.0,884.9C648.4,882.8 650.7,880.5 652.6,878.1C654.5,875.6 656.1,873.0 657.5,870.3C658.8,867.5 659.8,864.7 660.5,861.8C661.2,858.9 661.5,856.0 661.5,853.0Z" fill="#4848ff"/>
<path d="M656.6,853.0C656.6,850.4 656.3,847.6 655.7,844.9C655.1,842.3 654.1,839.7 652.9,837.2C651.7,834.7 650.2,832.3 648.5,830.1C646.8,827.8 644.7,825.7 642.5,823.8C640.3,821.9 637.8,820.2 635.2,818.7C632.6,817.2 629.8,815.9 626.9,814.8C624.0,813.8 621.0,813.0 617.9,812.5C614.8,812.0 611.4,811.7 608.5,811.7C605.6,811.7 603.2,812.0 600.6,812.5C598.0,813.0 595.4,813.8 593.0,814.8C590.5,815.9 588.1,817.2 585.9,818.7C583.7,820.2 581.7,821.9 579.8,823.8C577.9,825.7 576.2,827.8 574.7,830.1C573.3,832.3 572.0,834.7 571.0,837.2C570.0,839.7 569.2,842.3 568.7,844.9C568.2,847.6 567.9,850.4 567.9,853.0C567.9,855.6 568.2,858.2 568.7,860.7C569.2,863.2 570.0,865.7 571.0,868.1C572.0,870.4 573.3,872.8 574.7,874.9C576.2,877.0 577.9,879.0 579.8,880.9C581.7,882.7 583.7,884.3 585.9,885.8C588.1,887.2 590.5,888.4 593.0,889.4C595.4,890.4 598.0,891.1 600.6,891.6C603.2,892.1 605.6,892.4 608.5,892.4C611.4,892.4 614.8,892.1 617.9,891.6C621.0,891.1 624.0,890.4 626.9,889.4C629.8,888.4 632.6,887.2 635.2,885.8C637.8,884.3 640.3,882.7 642.5,880.9C644.7,879.0 646.8,877.0 648.5,874.9C650.2,872.8 651.7,870.4 652.9,868.1C654.1,865.7 655.1,863.2 655.7,860.7C656.3,858.2 656.6,855.6 656.6,853.0Z" fill="#1010ff"/>
<path d="M653.0,853.0C653.0,850.7 652.7,848.2 652.1,845.9C651.6,843.6 650.7,841.2 649.6,839.0C648.5,836.8 647.1,834.7 645.5,832.7C643.9,830.7 642.0,828.9 640.0,827.2C637.9,825.5 635.6,824.0 633.2,822.7C630.8,821.3 628.2,820.2 625.5,819.3C622.9,818.4 620.0,817.7 617.2,817.2C614.3,816.7 611.1,816.5 608.5,816.5C605.9,816.5 603.8,816.7 601.5,817.2C599.2,817.7 597.0,818.4 594.8,819.3C592.6,820.2 590.5,821.3 588.6,822.7C586.7,824.0 584.8,825.5 583.2,827.2C581.5,828.9 580.0,830.7 578.7,832.7C577.4,834.7 576.3,836.8 575.4,839.0C574.5,841.2 573.8,843.6 573.4,845.9C572.9,848.2 572.7,850.7 572.7,853.0C572.7,855.3 572.9,857.5 573.4,859.7C573.8,861.9 574.5,864.1 575.4,866.2C576.3,868.3 577.4,870.3 578.7,872.2C580.0,874.0 581.5,875.8 583.2,877.4C584.8,879.0 586.7,880.4 588.6,881.7C590.5,882.9 592.6,884.0 594.8,884.9C597.0,885.7 599.2,886.4 601.5,886.8C603.8,887.3 605.9,887.5 608.5,887.5C611.1,887.5 614.3,887.3 617.2,886.8C620.0,886.4 622.9,885.7 625.5,884.9C628.2,884.0 630.8,882.9 633.2,881.7C635.6,880.4 637.9,879.0 640.0,877.4C642.0,875.8 643.9,874.0 645.5,872.2C647.1,870.3 648.5,868.3 649.6,866.2C650.7,864.1 651.6,861.9 652.1,859.7C652.7,857.5 653.0,855.3 653.0,853.0Z" fill="#0a12e8"/>
<path d="M650.2,853.0C650.2,850.9 649.9,848.7 649.4,846.6C648.9,844.5 648.1,842.4 647.0,840.4C646.0,838.5 644.7,836.6 643.2,834.8C641.7,833.0 639.9,831.3 638.0,829.8C636.1,828.3 633.9,826.9 631.7,825.7C629.4,824.5 627.0,823.5 624.5,822.7C622.0,821.9 619.3,821.2 616.6,820.8C614.0,820.4 610.9,820.2 608.5,820.2C606.1,820.2 604.2,820.4 602.1,820.8C600.1,821.2 598.0,821.9 596.0,822.7C594.1,823.5 592.2,824.5 590.4,825.7C588.6,826.9 586.9,828.3 585.4,829.8C583.9,831.3 582.6,833.0 581.4,834.8C580.2,836.6 579.2,838.5 578.4,840.4C577.6,842.4 576.9,844.5 576.5,846.6C576.1,848.7 575.9,850.9 575.9,853.0C575.9,855.1 576.1,857.2 576.5,859.2C576.9,861.2 577.6,863.2 578.4,865.1C579.2,867.0 580.2,868.9 581.4,870.6C582.6,872.3 583.9,874.0 585.4,875.4C586.9,876.9 588.6,878.2 590.4,879.4C592.2,880.5 594.1,881.5 596.0,882.3C598.0,883.1 600.1,883.7 602.1,884.1C604.2,884.5 606.1,884.7 608.5,884.7C610.9,884.7 614.0,884.5 616.6,884.1C619.3,883.7 622.0,883.1 624.5,882.3C627.0,881.5 629.4,880.5 631.7,879.4C633.9,878.2 636.1,876.9 638.0,875.4C639.9,874.0 641.7,872.3 643.2,870.6C644.7,868.9 646.0,867.0 647.0,865.1C648.1,863.2 648.9,861.2 649.4,859.2C649.9,857.2 650.2,855.1 650.2,853.0Z" fill="#0c3cb4"/>
<path d="M647.5,853.0C647.5,851.1 647.2,849.0 646.8,847.1C646.3,845.1 645.5,843.2 644.5,841.4C643.6,839.5 642.3,837.8 640.9,836.1C639.5,834.5 637.9,832.9 636.1,831.5C634.3,830.1 632.3,828.8 630.2,827.7C628.1,826.6 625.8,825.7 623.4,824.9C621.1,824.2 618.6,823.6 616.1,823.2C613.6,822.8 610.7,822.6 608.5,822.6C606.3,822.6 604.6,822.8 602.7,823.2C600.8,823.6 598.9,824.2 597.1,824.9C595.3,825.7 593.5,826.6 591.9,827.7C590.3,828.8 588.7,830.1 587.4,831.5C586.0,832.9 584.7,834.5 583.6,836.1C582.6,837.8 581.6,839.5 580.9,841.4C580.1,843.2 579.6,845.1 579.2,847.1C578.8,849.0 578.6,851.1 578.6,853.0C578.6,854.9 578.8,856.8 579.2,858.7C579.6,860.6 580.1,862.5 580.9,864.2C581.6,866.0 582.6,867.7 583.6,869.3C584.7,870.9 586.0,872.4 587.4,873.7C588.7,875.1 590.3,876.3 591.9,877.4C593.5,878.4 595.3,879.3 597.1,880.1C598.9,880.8 600.8,881.4 602.7,881.7C604.6,882.1 606.3,882.3 608.5,882.3C610.7,882.3 613.6,882.1 616.1,881.7C618.6,881.4 621.1,880.8 623.4,880.1C625.8,879.3 628.1,878.4 630.2,877.4C632.3,876.3 634.3,875.1 636.1,873.7C637.9,872.4 639.5,870.9 640.9,869.3C642.3,867.7 643.6,866.0 644.5,864.2C645.5,862.5 646.3,860.6 646.8,858.7C647.2,856.8 647.5,854.9 647.5,853.0Z" fill="#107090"/>
<path d="M644.5,853.0C644.5,851.2 644.4,849.3 644.0,847.5C643.7,845.7 643.2,843.8 642.4,842.1C641.7,840.3 640.7,838.5 639.5,836.9C638.2,835.3 636.7,833.7 635.0,832.4C633.3,831.1 631.3,829.9 629.2,828.9C627.1,828.0 624.8,827.2 622.6,826.6C620.3,826.0 617.9,825.6 615.6,825.4C613.2,825.1 610.6,825.0 608.5,825.0C606.4,825.0 604.9,825.1 603.0,825.4C601.2,825.6 599.4,826.0 597.6,826.6C595.9,827.2 594.1,828.0 592.5,828.9C590.9,829.9 589.4,831.1 588.1,832.4C586.7,833.7 585.6,835.3 584.6,836.9C583.6,838.5 582.9,840.3 582.3,842.1C581.7,843.8 581.3,845.7 581.1,847.5C580.8,849.3 580.7,851.2 580.7,853.0C580.7,854.8 580.8,856.5 581.1,858.2C581.4,859.9 581.7,861.7 582.3,863.3C583.0,864.9 583.8,866.6 585.0,867.9C586.2,869.2 587.9,870.2 589.4,871.1C591.0,872.0 592.6,872.5 594.1,873.4C595.6,874.3 596.7,875.6 598.2,876.5C599.7,877.4 601.4,878.3 603.1,878.8C604.8,879.2 606.4,879.3 608.5,879.4C610.6,879.4 613.2,879.3 615.6,879.0C617.9,878.8 620.3,878.4 622.6,877.9C624.8,877.3 627.1,876.6 629.2,875.7C631.3,874.8 633.3,873.7 635.0,872.4C636.7,871.2 638.2,869.7 639.5,868.2C640.7,866.6 641.7,865.0 642.4,863.3C643.2,861.6 643.7,859.9 644.0,858.2C644.4,856.5 644.5,854.8 644.5,853.0Z" fill="#108060"/>
<path d="M641.5,853.0C641.5,851.4 641.4,849.6 641.1,848.0C640.7,846.3 640.3,844.6 639.6,843.0C638.9,841.4 638.0,839.8 636.9,838.3C635.7,836.8 634.3,835.4 632.8,834.2C631.2,833.0 629.4,831.9 627.5,831.0C625.6,830.1 623.5,829.4 621.4,828.9C619.3,828.3 617.1,828.0 615.0,827.7C612.8,827.5 610.4,827.4 608.5,827.4C606.6,827.4 605.1,827.5 603.5,827.7C601.8,828.0 600.1,828.3 598.5,828.9C596.9,829.4 595.3,830.1 593.8,831.0C592.3,831.9 590.9,833.0 589.7,834.2C588.5,835.4 587.4,836.8 586.5,838.3C585.6,839.8 584.9,841.4 584.4,843.0C583.8,844.6 583.5,846.3 583.2,848.0C583.0,849.6 582.9,851.4 582.9,853.0C582.9,854.6 583.0,856.2 583.2,857.7C583.5,859.3 583.8,860.9 584.4,862.3C585.1,863.8 585.9,865.3 587.1,866.4C588.3,867.5 590.2,868.1 591.7,868.7C593.2,869.4 594.9,869.5 596.1,870.4C597.4,871.2 598.1,872.7 599.4,873.7C600.6,874.6 602.0,875.7 603.6,876.3C605.1,876.8 606.6,876.9 608.5,877.0C610.4,877.0 612.8,876.9 615.0,876.7C617.1,876.5 619.3,876.1 621.4,875.6C623.5,875.1 625.6,874.5 627.5,873.6C629.4,872.8 631.2,871.8 632.8,870.6C634.3,869.5 635.7,868.2 636.9,866.8C638.0,865.4 638.9,863.9 639.6,862.4C640.3,860.9 640.7,859.3 641.1,857.7C641.4,856.1 641.5,854.6 641.5,853.0Z" fill="#109a3c"/>
<path d="M639.0,853.0C639.0,851.5 638.9,849.9 638.6,848.4C638.3,846.9 637.9,845.3 637.2,843.8C636.6,842.3 635.8,840.8 634.7,839.5C633.7,838.1 632.4,836.8 630.9,835.7C629.5,834.6 627.8,833.6 626.0,832.8C624.3,832.0 622.3,831.4 620.4,830.9C618.5,830.4 616.5,830.0 614.5,829.8C612.5,829.6 610.3,829.5 608.5,829.5C606.7,829.5 605.4,829.6 603.9,829.8C602.4,830.0 600.8,830.4 599.3,830.9C597.8,831.4 596.3,832.0 595.0,832.8C593.6,833.6 592.3,834.6 591.2,835.7C590.1,836.8 589.1,838.1 588.3,839.5C587.5,840.8 586.9,842.3 586.4,843.8C585.9,845.3 585.5,846.9 585.3,848.4C585.1,849.9 585.0,851.5 585.0,853.0C585.0,854.5 585.1,855.9 585.3,857.3C585.6,858.7 585.8,860.2 586.4,861.6C587.1,862.9 587.8,864.3 589.1,865.2C590.3,866.0 592.3,866.3 593.8,866.8C595.3,867.2 596.8,867.0 598.0,867.8C599.1,868.5 599.4,870.2 600.4,871.3C601.4,872.3 602.7,873.6 604.0,874.2C605.3,874.8 606.8,874.9 608.5,875.0C610.2,875.0 612.5,874.9 614.5,874.7C616.5,874.5 618.5,874.2 620.4,873.7C622.3,873.3 624.3,872.7 626.0,871.9C627.8,871.2 629.5,870.2 630.9,869.2C632.4,868.1 633.7,866.9 634.7,865.6C635.8,864.4 636.6,863.0 637.2,861.6C637.9,860.2 638.3,858.7 638.6,857.3C638.9,855.9 639.0,854.5 639.0,853.0Z" fill="#1ab81a"/>
<path d="M636.4,853.0C636.4,851.7 636.3,850.2 636.0,848.9C635.8,847.5 635.4,846.1 634.8,844.8C634.2,843.4 633.5,842.1 632.5,840.9C631.5,839.7 630.3,838.5 629.0,837.5C627.7,836.5 626.1,835.6 624.5,834.9C622.9,834.1 621.1,833.6 619.4,833.1C617.6,832.7 615.8,832.4 614.0,832.2C612.2,832.0 610.1,831.9 608.5,831.9C606.9,831.9 605.6,832.0 604.2,832.2C602.8,832.4 601.3,832.7 600.0,833.1C598.6,833.6 597.2,834.1 595.9,834.9C594.7,835.6 593.4,836.5 592.4,837.5C591.4,838.5 590.4,839.7 589.7,840.9C588.9,842.1 588.3,843.4 587.9,844.8C587.4,846.1 587.1,847.5 586.9,848.9C586.7,850.2 586.6,851.7 586.6,853.0C586.6,854.3 586.7,855.6 586.9,856.8C587.1,858.1 587.3,859.5 587.9,860.6C588.6,861.8 589.3,863.0 590.5,863.8C591.7,864.5 593.8,864.6 595.2,864.9C596.7,865.2 598.2,864.8 599.2,865.5C600.2,866.2 600.3,867.8 601.2,868.9C602.0,869.9 603.1,871.2 604.3,871.8C605.5,872.4 606.9,872.5 608.5,872.6C610.1,872.6 612.2,872.5 614.0,872.3C615.8,872.2 617.6,871.9 619.4,871.5C621.1,871.1 622.9,870.5 624.5,869.9C626.1,869.2 627.7,868.3 629.0,867.4C630.3,866.5 631.5,865.4 632.5,864.3C633.5,863.1 634.2,861.9 634.8,860.7C635.4,859.4 635.8,858.1 636.0,856.8C636.3,855.6 636.4,854.3 636.4,853.0Z" fill="#48c010"/>
<path d="M633.9,853.0C633.9,851.8 633.8,850.5 633.6,849.3C633.3,848.0 633.0,846.7 632.4,845.5C631.9,844.3 631.2,843.1 630.3,842.0C629.5,840.9 628.4,839.9 627.2,839.0C626.0,838.0 624.6,837.2 623.1,836.6C621.6,835.9 620.0,835.4 618.4,835.0C616.8,834.6 615.1,834.3 613.5,834.2C611.8,834.0 610.0,833.9 608.5,833.9C607.0,833.9 605.8,834.0 604.5,834.2C603.2,834.3 601.9,834.6 600.6,835.0C599.3,835.4 598.0,835.9 596.8,836.6C595.7,837.2 594.5,838.0 593.6,839.0C592.6,839.9 591.7,840.9 591.0,842.0C590.3,843.1 589.8,844.3 589.4,845.5C588.9,846.7 588.7,848.0 588.5,849.3C588.3,850.5 588.2,851.8 588.2,853.0C588.2,854.2 588.3,855.3 588.5,856.4C588.7,857.6 588.9,858.8 589.5,859.8C590.0,860.8 590.7,862.0 591.9,862.6C593.0,863.2 595.0,863.2 596.4,863.4C597.8,863.6 599.2,863.3 600.1,863.9C601.0,864.5 601.0,866.0 601.8,867.0C602.5,868.0 603.5,869.2 604.6,869.7C605.8,870.3 607.0,870.4 608.5,870.5C610.0,870.5 611.8,870.4 613.5,870.3C615.1,870.1 616.8,869.9 618.4,869.5C620.0,869.1 621.6,868.7 623.1,868.0C624.6,867.4 626.0,866.7 627.2,865.9C628.4,865.0 629.5,864.1 630.3,863.1C631.2,862.0 631.9,860.9 632.4,859.8C633.0,858.7 633.3,857.6 633.6,856.4C633.8,855.3 633.9,854.2 633.9,853.0Z" fill="#7ad010"/>
<path d="M631.3,853.0C631.3,851.9 631.2,850.8 631.0,849.7C630.8,848.6 630.5,847.4 630.0,846.4C629.5,845.3 628.9,844.2 628.1,843.2C627.3,842.3 626.4,841.3 625.3,840.5C624.2,839.7 622.9,839.0 621.6,838.4C620.3,837.8 618.8,837.3 617.4,837.0C616.0,836.6 614.5,836.4 613.0,836.2C611.5,836.1 609.9,836.0 608.5,836.0C607.1,836.0 606.0,836.1 604.8,836.2C603.6,836.4 602.4,836.6 601.2,837.0C600.0,837.3 598.8,837.8 597.8,838.4C596.7,839.0 595.6,839.7 594.7,840.5C593.9,841.3 593.1,842.3 592.4,843.2C591.8,844.2 591.3,845.3 590.9,846.4C590.5,847.4 590.2,848.6 590.1,849.7C589.9,850.8 589.8,851.9 589.8,853.0C589.8,854.1 589.9,855.1 590.1,856.1C590.2,857.1 590.4,858.2 591.0,859.2C591.5,860.1 592.1,861.1 593.2,861.7C594.3,862.2 596.1,862.3 597.4,862.5C598.6,862.7 599.9,862.3 600.7,862.9C601.6,863.4 601.6,864.8 602.3,865.7C603.0,866.6 603.9,867.7 604.9,868.2C606.0,868.7 607.2,868.8 608.5,868.9C609.8,868.9 611.5,868.8 613.0,868.7C614.5,868.5 616.0,868.3 617.4,868.0C618.8,867.6 620.3,867.2 621.6,866.7C622.9,866.1 624.2,865.4 625.3,864.7C626.4,863.9 627.3,863.0 628.1,862.1C628.9,861.2 629.5,860.2 630.0,859.2C630.5,858.2 630.8,857.2 631.0,856.1C631.2,855.1 631.3,854.1 631.3,853.0Z" fill="#b4e200"/>
<path d="M628.8,853.0C628.8,852.0 628.7,851.0 628.5,850.1C628.3,849.1 628.1,848.1 627.6,847.1C627.2,846.2 626.7,845.2 626.0,844.4C625.3,843.5 624.4,842.7 623.4,842.0C622.5,841.3 621.3,840.6 620.2,840.1C619.0,839.6 617.7,839.2 616.4,838.9C615.1,838.5 613.8,838.3 612.5,838.2C611.2,838.1 609.7,838.0 608.5,838.0C607.3,838.0 606.2,838.1 605.1,838.2C604.0,838.3 602.8,838.5 601.7,838.9C600.7,839.2 599.6,839.6 598.6,840.1C597.6,840.6 596.6,841.3 595.8,842.0C595.0,842.7 594.2,843.5 593.6,844.4C593.0,845.2 592.6,846.2 592.2,847.1C591.8,848.1 591.6,849.1 591.4,850.1C591.3,851.0 591.2,852.0 591.2,853.0C591.2,854.0 591.3,854.9 591.4,855.8C591.6,856.8 591.8,857.8 592.3,858.6C592.7,859.4 593.3,860.4 594.3,860.9C595.2,861.4 596.9,861.5 598.0,861.7C599.2,861.9 600.3,861.7 601.1,862.2C601.9,862.7 602.0,863.9 602.7,864.7C603.4,865.4 604.2,866.3 605.2,866.8C606.2,867.3 607.3,867.3 608.5,867.4C609.7,867.4 611.2,867.3 612.5,867.2C613.8,867.1 615.1,866.9 616.4,866.6C617.7,866.3 619.0,865.9 620.2,865.4C621.3,864.9 622.5,864.3 623.4,863.6C624.4,862.9 625.3,862.1 626.0,861.3C626.7,860.4 627.2,859.5 627.6,858.6C628.1,857.7 628.3,856.8 628.5,855.8C628.7,854.9 628.8,854.0 628.8,853.0Z" fill="#e6f500"/>
<path d="M626.8,853.0C626.8,852.1 626.7,851.3 626.6,850.4C626.4,849.6 626.1,848.7 625.7,847.8C625.4,847.0 624.9,846.2 624.2,845.4C623.6,844.7 622.8,843.9 622.0,843.3C621.1,842.7 620.1,842.1 619.0,841.6C618.0,841.2 616.8,840.8 615.6,840.6C614.5,840.3 613.3,840.1 612.1,840.0C610.9,839.9 609.6,839.8 608.5,839.8C607.4,839.8 606.4,839.9 605.4,840.0C604.3,840.1 603.3,840.3 602.3,840.6C601.3,840.8 600.3,841.2 599.4,841.6C598.5,842.1 597.6,842.7 596.8,843.3C596.1,843.9 595.4,844.7 594.8,845.4C594.3,846.2 593.9,847.0 593.5,847.8C593.2,848.7 593.0,849.6 592.8,850.4C592.7,851.3 592.6,852.1 592.6,853.0C592.6,853.9 592.7,854.7 592.8,855.6C593.0,856.4 593.1,857.3 593.6,858.1C594.0,858.8 594.5,859.7 595.3,860.2C596.2,860.7 597.5,860.9 598.5,861.1C599.6,861.4 600.6,861.3 601.4,861.7C602.1,862.2 602.4,863.2 603.0,863.8C603.7,864.4 604.5,865.1 605.5,865.5C606.4,865.9 607.4,865.9 608.5,866.0C609.6,866.0 610.9,865.9 612.1,865.8C613.3,865.7 614.5,865.5 615.6,865.3C616.8,865.0 618.0,864.6 619.0,864.2C620.1,863.7 621.1,863.2 622.0,862.6C622.8,861.9 623.6,861.2 624.2,860.5C624.9,859.7 625.4,858.9 625.7,858.1C626.1,857.3 626.4,856.4 626.6,855.6C626.7,854.7 626.8,853.9 626.8,853.0Z" fill="#ffff00"/>
<path d="M625.0,853.0C625.0,852.2 624.9,851.4 624.8,850.6C624.6,849.9 624.4,849.1 624.0,848.3C623.7,847.6 623.3,846.8 622.7,846.1C622.1,845.4 621.4,844.7 620.6,844.2C619.8,843.6 618.9,843.1 618.0,842.7C617.0,842.3 616.0,841.9 614.9,841.7C613.9,841.4 612.8,841.3 611.7,841.2C610.7,841.0 609.5,841.0 608.5,841.0C607.5,841.0 606.6,841.0 605.6,841.2C604.7,841.3 603.7,841.4 602.8,841.7C601.8,841.9 600.9,842.3 600.1,842.7C599.2,843.1 598.4,843.6 597.7,844.2C597.0,844.7 596.4,845.4 595.9,846.1C595.4,846.8 595.0,847.6 594.6,848.3C594.3,849.1 594.1,849.9 594.0,850.6C593.9,851.4 593.8,852.2 593.8,853.0C593.8,853.8 593.9,854.5 594.0,855.3C594.1,856.1 594.3,856.9 594.7,857.6C595.1,858.3 595.5,859.1 596.2,859.6C596.9,860.1 598.0,860.4 598.9,860.7C599.7,861.1 600.7,861.1 601.4,861.5C602.1,861.9 602.5,862.7 603.3,863.2C604.0,863.6 604.8,864.2 605.7,864.4C606.5,864.7 607.5,864.8 608.5,864.8C609.5,864.8 610.7,864.8 611.7,864.6C612.8,864.5 613.9,864.4 614.9,864.1C616.0,863.9 617.0,863.6 618.0,863.1C618.9,862.7 619.8,862.2 620.6,861.7C621.4,861.1 622.1,860.5 622.7,859.8C623.3,859.1 623.7,858.3 624.0,857.6C624.4,856.9 624.6,856.1 624.8,855.3C624.9,854.5 625.0,853.8 625.0,853.0Z" fill="#ffc000"/>
<path d="M623.0,853.0C623.0,852.3 622.9,851.6 622.8,850.8C622.7,850.1 622.5,849.4 622.2,848.7C621.9,848.0 621.5,847.3 621.0,846.7C620.5,846.0 619.9,845.4 619.2,844.9C618.5,844.4 617.7,843.9 616.8,843.5C616.0,843.2 615.1,842.9 614.2,842.6C613.2,842.4 612.3,842.3 611.3,842.1C610.4,842.0 609.4,842.0 608.5,842.0C607.6,842.0 606.7,842.0 605.9,842.1C605.0,842.3 604.1,842.4 603.2,842.6C602.4,842.9 601.5,843.2 600.7,843.5C600.0,843.9 599.2,844.4 598.6,844.9C597.9,845.4 597.4,846.0 596.9,846.7C596.4,847.3 596.1,848.0 595.8,848.7C595.5,849.4 595.3,850.1 595.2,850.8C595.1,851.6 595.0,852.3 595.0,853.0C595.0,853.7 595.0,854.4 595.2,855.1C595.3,855.8 595.5,856.5 595.8,857.1C596.1,857.8 596.5,858.5 597.1,859.0C597.7,859.5 598.5,859.9 599.2,860.3C600.0,860.6 600.8,860.8 601.5,861.2C602.2,861.6 602.8,862.1 603.5,862.4C604.2,862.8 605.0,863.2 605.9,863.3C606.7,863.5 607.6,863.6 608.5,863.6C609.4,863.6 610.4,863.6 611.3,863.5C612.3,863.4 613.2,863.2 614.2,863.0C615.1,862.8 616.0,862.5 616.8,862.1C617.7,861.7 618.5,861.3 619.2,860.8C619.9,860.3 620.5,859.7 621.0,859.1C621.5,858.5 621.9,857.8 622.2,857.1C622.5,856.5 622.7,855.8 622.8,855.1C622.9,854.4 623.0,853.7 623.0,853.0Z" fill="#ff8c00"/>
<path d="M621.0,853.0C621.0,852.4 621.0,851.7 620.8,851.0C620.7,850.4 620.5,849.7 620.3,849.1C620.0,848.5 619.7,847.8 619.2,847.3C618.8,846.7 618.3,846.1 617.7,845.6C617.1,845.2 616.4,844.7 615.7,844.4C615.0,844.1 614.2,843.8 613.4,843.6C612.6,843.4 611.8,843.2 611.0,843.1C610.1,843.0 609.3,843.0 608.5,843.0C607.7,843.0 606.9,843.0 606.1,843.1C605.3,843.2 604.5,843.4 603.7,843.6C602.9,843.8 602.1,844.1 601.4,844.4C600.7,844.7 600.0,845.2 599.5,845.6C598.9,846.1 598.3,846.7 597.9,847.3C597.5,847.8 597.2,848.5 596.9,849.1C596.6,849.7 596.5,850.4 596.4,851.0C596.2,851.7 596.2,852.4 596.2,853.0C596.2,853.6 596.2,854.2 596.4,854.9C596.5,855.5 596.6,856.1 596.9,856.7C597.2,857.3 597.5,857.9 597.9,858.5C598.3,859.0 598.9,859.5 599.5,860.0C600.0,860.4 600.7,860.8 601.4,861.2C602.1,861.5 602.9,861.8 603.7,862.0C604.5,862.2 605.3,862.3 606.1,862.4C606.9,862.5 607.7,862.5 608.5,862.5C609.3,862.5 610.1,862.5 611.0,862.4C611.8,862.3 612.6,862.2 613.4,862.0C614.2,861.8 615.0,861.5 615.7,861.2C616.4,860.8 617.1,860.4 617.7,860.0C618.3,859.5 618.8,859.0 619.2,858.5C619.7,857.9 620.0,857.3 620.3,856.7C620.5,856.1 620.7,855.5 620.8,854.9C621.0,854.2 621.0,853.6 621.0,853.0Z" fill="#ff6400"/>
<path d="M619.0,853.0C619.0,852.4 619.0,851.8 618.9,851.3C618.8,850.7 618.6,850.1 618.4,849.6C618.2,849.0 617.9,848.5 617.5,847.9C617.2,847.4 616.7,846.9 616.2,846.5C615.7,846.1 615.1,845.7 614.5,845.4C613.9,845.1 613.3,844.9 612.6,844.7C611.9,844.5 611.2,844.4 610.6,844.3C609.9,844.2 609.2,844.2 608.5,844.2C607.8,844.2 607.1,844.2 606.4,844.3C605.7,844.4 605.0,844.5 604.3,844.7C603.6,844.9 602.9,845.1 602.3,845.4C601.7,845.7 601.1,846.1 600.6,846.5C600.0,846.9 599.6,847.4 599.2,847.9C598.8,848.5 598.6,849.0 598.3,849.6C598.1,850.1 597.9,850.7 597.8,851.3C597.7,851.8 597.7,852.4 597.7,853.0C597.7,853.6 597.7,854.1 597.8,854.6C597.9,855.2 598.1,855.7 598.3,856.2C598.6,856.8 598.8,857.3 599.2,857.8C599.6,858.2 600.0,858.7 600.6,859.1C601.1,859.5 601.7,859.9 602.3,860.1C602.9,860.4 603.6,860.6 604.3,860.8C605.0,861.0 605.7,861.1 606.4,861.2C607.1,861.3 607.8,861.3 608.5,861.3C609.2,861.3 609.9,861.3 610.6,861.2C611.2,861.1 611.9,861.0 612.6,860.8C613.3,860.6 613.9,860.4 614.5,860.1C615.1,859.9 615.7,859.5 616.2,859.1C616.7,858.7 617.2,858.2 617.5,857.8C617.9,857.3 618.2,856.8 618.4,856.2C618.6,855.7 618.8,855.2 618.9,854.6C619.0,854.1 619.0,853.6 619.0,853.0Z" fill="#ff3200"/>
<path d="M615.0,853.0C615.0,852.7 615.0,852.3 614.9,851.9C614.9,851.5 614.8,851.1 614.6,850.8C614.5,850.4 614.3,850.1 614.1,849.7C613.9,849.4 613.6,849.1 613.3,848.8C613.0,848.5 612.6,848.3 612.2,848.1C611.9,847.9 611.4,847.7 611.0,847.6C610.6,847.5 610.2,847.4 609.8,847.4C609.4,847.3 608.9,847.3 608.5,847.3C608.1,847.3 607.6,847.3 607.1,847.4C606.6,847.4 606.1,847.5 605.7,847.6C605.2,847.7 604.8,847.9 604.4,848.1C603.9,848.3 603.5,848.5 603.2,848.8C602.9,849.1 602.6,849.4 602.3,849.7C602.1,850.1 601.9,850.4 601.7,850.8C601.6,851.1 601.5,851.5 601.4,851.9C601.3,852.3 601.3,852.7 601.3,853.0C601.3,853.3 601.3,853.7 601.4,854.0C601.5,854.3 601.6,854.6 601.7,855.0C601.9,855.3 602.1,855.6 602.3,855.9C602.6,856.2 602.9,856.4 603.2,856.7C603.5,856.9 603.9,857.1 604.4,857.3C604.8,857.5 605.2,857.6 605.7,857.7C606.1,857.8 606.6,857.9 607.1,857.9C607.6,858.0 608.1,858.0 608.5,858.0C608.9,858.0 609.4,858.0 609.8,857.9C610.2,857.9 610.6,857.8 611.0,857.7C611.4,857.6 611.9,857.5 612.2,857.3C612.6,857.1 613.0,856.9 613.3,856.7C613.6,856.4 613.9,856.2 614.1,855.9C614.3,855.6 614.5,855.3 614.6,855.0C614.8,854.6 614.9,854.3 614.9,854.0C615.0,853.7 615.0,853.3 615.0,853.0Z" fill="#ff0000"/>
</g>
<rect x="485.80" y="756.40" width="220.20" height="220.20" fill="none" stroke="#000" stroke-width="2"/>
<path d="M496.81,976.60v-3.0M485.80,965.59h3.0M507.82,976.60v-3.0M485.80,954.58h3.0M518.83,976.60v-3.0M485.80,943.57h3.0M529.84,976.60v-3.0M485.80,932.56h3.0M540.85,976.60v-6.5M485.80,921.55h6.5M551.86,976.60v-3.0M485.80,910.54h3.0M562.87,976.60v-3.0M485.80,899.53h3.0M573.88,976.60v-3.0M485.80,888.52h3.0M584.89,976.60v-3.0M485.80,877.51h3.0M595.90,976.60v-6.5M485.80,866.50h6.5M606.91,976.60v-3.0M485.80,855.49h3.0M617.92,976.60v-3.0M485.80,844.48h3.0M628.93,976.60v-3.0M485.80,833.47h3.0M639.94,976.60v-3.0M485.80,822.46h3.0M650.95,976.60v-6.5M485.80,811.45h6.5M661.96,976.60v-3.0M485.80,800.44h3.0M672.97,976.60v-3.0M485.80,789.43h3.0M683.98,976.60v-3.0M485.80,778.42h3.0M694.99,976.60v-3.0M485.80,767.41h3.0" stroke="#000" stroke-width="1.6" fill="none"/>
<text x="485.80" y="1006.00" text-anchor="middle" class="t">-500</text>
<text x="471.80" y="983.80" text-anchor="end" class="t">-500</text>
<text x="540.85" y="1006.00" text-anchor="middle" class="t">-250</text>
<text x="471.80" y="928.75" text-anchor="end" class="t">-250</text>
<text x="595.90" y="1006.00" text-anchor="middle" class="t">0</text>
<text x="471.80" y="873.70" text-anchor="end" class="t">0</text>
<text x="650.95" y="1006.00" text-anchor="middle" class="t">250</text>
<text x="471.80" y="818.65" text-anchor="end" class="t">250</text>
<text x="706.00" y="1006.00" text-anchor="middle" class="t">500</text>
<text x="471.80" y="763.60" text-anchor="end" class="t">500</text>
<text x="595.90" y="1033.60" text-anchor="middle" class="t" style="font-size:20.2px">Distance from center (km)</text>
<text transform="translate(415.50,866.50) rotate(-90)" text-anchor="middle" class="t" style="font-size:20.2px">Distance from center (km)</text>
<text x="484.60" y="737.90" class="t" style="font-size:20px">Cluster 6</text>
<text x="702.50" y="774.40" text-anchor="end" class="t">N=1466</text>
<rect x="734.00" y="758.20" width="13.30" height="9.84" fill="#ff0000" stroke="#000" stroke-width="1"/>
<rect x="734.00" y="768.04" width="13.30" height="9.84" fill="#ff3200" stroke="#000" stroke-width="1"/>
<rect x="734.00" y="777.88" width="13.30" height="9.84" fill="#ff6400" stroke="#000" stroke-width="1"/>
<rect x="734.00" y="787.72" width="13.30" height="9.84" fill="#ff8c00" stroke="#000" stroke-width="1"/>
<rect x="734.00" y="797.56" width="13.30" height="9.84" fill="#ffc000" stroke="#000" stroke-width="1"/>
<rect x="734.00" y="807.40" width="13.30" height="9.84" fill="#ffff00" stroke="#000" stroke-width="1"/>
<rect x="734.00" y="817.25" width="13.30" height="9.84" fill="#e6f500" stroke="#000" stroke-width="1"/>
<rect x="734.00" y="827.09" width="13.30" height="9.84" fill="#b4e200" stroke="#000" stroke-width="1"/>
<rect x="734.00" y="836.93" width="13.30" height="9.84" fill="#7ad010" stroke="#000" stroke-width="1"/>
<rect x="734.00" y="846.77" width="13.30" height="9.84" fill="#48c010" stroke="#000" stroke-width="1"/>
<rect x="734.00" y="856.61" width="13.30" height="9.84" fill="#1ab81a" stroke="#000" stroke-width="1"/>
<rect x="734.00" y="866.45" width="13.30" height="9.84" fill="#109a3c" stroke="#000" stroke-width="1"/>
<rect x="734.00" y="876.29" width="13.30" height="9.84" fill="#108060" stroke="#000" stroke-width="1"/>
<rect x="734.00" y="886.13" width="13.30" height="9.84" fill="#107090" stroke="#000" stroke-width="1"/>
<rect x="734.00" y="895.97" width="13.30" height="9.84" fill="#0c3cb4" stroke="#000" stroke-width="1"/>
<rect x="734.00" y="905.81" width="13.30" height="9.84" fill="#0a12e8" stroke="#000" stroke-width="1"/>
<rect x="734.00" y="915.65" width="13.30" height="9.84" fill="#1010ff" stroke="#000" stroke-width="1"/>
<rect x="734.00" y="925.50" width="13.30" height="9.84" fill="#4848ff" stroke="#000" stroke-width="1"/>
<rect x="734.00" y="935.34" width="13.30" height="9.84" fill="#7878ff" stroke="#000" stroke-width="1"/>
<rect x="734.00" y="945.18" width="13.30" height="9.84" fill="#a6a6ff" stroke="#000" stroke-width="1"/>
<rect x="734.00" y="955.02" width="13.30" height="9.84" fill="#ccccff" stroke="#000" stroke-width="1"/>
<rect x="734.00" y="964.86" width="13.30" height="9.84" fill="#ffffff" stroke="#000" stroke-width="1"/>
<text x="759.60" y="960.87" class="s" text-anchor="middle">2</text>
<text x="759.60" y="941.19" class="s" text-anchor="middle">4</text>
<text x="759.60" y="921.50" class="s" text-anchor="middle">6</text>
<text x="759.60" y="901.82" class="s" text-anchor="middle">8</text>
<text x="759.60" y="882.14" class="s" text-anchor="middle">10</text>
<text x="759.60" y="862.46" class="s" text-anchor="middle">12</text>
<text x="759.60" y="842.78" class="s" text-anchor="middle">14</text>
<text x="759.60" y="823.10" class="s" text-anchor="middle">16</text>
<text x="759.60" y="803.41" class="s" text-anchor="middle">18</text>
<text x="759.60" y="783.73" class="s" text-anchor="middle">20</text>
</svg>
</body></html>
